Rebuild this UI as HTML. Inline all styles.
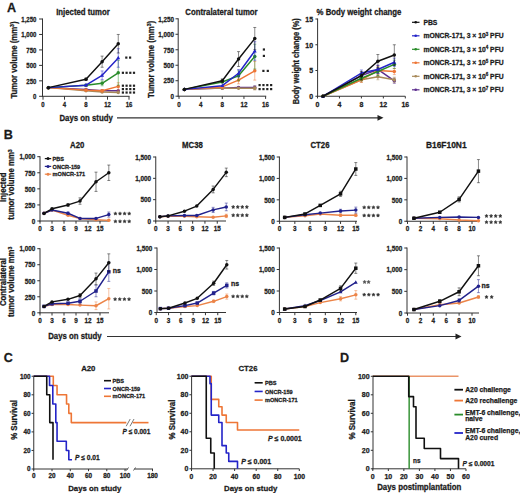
<!DOCTYPE html>
<html><head><meta charset="utf-8"><style>
html,body{margin:0;padding:0;background:#fff;}
svg{display:block;font-family:"Liberation Sans", sans-serif;}
text{stroke:#1a1a1a;stroke-width:0.25px;paint-order:stroke;}
</style></head><body>
<svg width="520" height="493" viewBox="0 0 520 493">
<rect width="520" height="493" fill="#fff"/>
<text x="6.9" y="11.29" text-anchor="start" style="font-size:12.6px;font-weight:bold;" fill="#1a1a1a" transform="translate(6.9 6.75) scale(1 1.05) translate(-6.9 -6.75)" >A</text>
<line x1="42.5" y1="18.5" x2="42.5" y2="96.8" stroke="#333" stroke-width="1" />
<line x1="42" y1="96.3" x2="129.5" y2="96.3" stroke="#333" stroke-width="1" />
<line x1="39.1" y1="96.3" x2="42.5" y2="96.3" stroke="#333" stroke-width="1" />
<text x="36.4" y="98.82" text-anchor="end" style="font-size:7px;font-weight:bold;" fill="#1a1a1a" transform="translate(36.4 96.3) scale(0.86 1.1) translate(-36.4 -96.3)" >0</text>
<line x1="39.1" y1="80.84" x2="42.5" y2="80.84" stroke="#333" stroke-width="1" />
<text x="36.4" y="83.36" text-anchor="end" style="font-size:7px;font-weight:bold;" fill="#1a1a1a" transform="translate(36.4 80.84) scale(0.86 1.1) translate(-36.4 -80.84)" >250</text>
<line x1="39.1" y1="65.38" x2="42.5" y2="65.38" stroke="#333" stroke-width="1" />
<text x="36.4" y="67.9" text-anchor="end" style="font-size:7px;font-weight:bold;" fill="#1a1a1a" transform="translate(36.4 65.38) scale(0.86 1.1) translate(-36.4 -65.38)" >500</text>
<line x1="39.1" y1="49.92" x2="42.5" y2="49.92" stroke="#333" stroke-width="1" />
<text x="36.4" y="52.44" text-anchor="end" style="font-size:7px;font-weight:bold;" fill="#1a1a1a" transform="translate(36.4 49.92) scale(0.86 1.1) translate(-36.4 -49.92)" >750</text>
<line x1="39.1" y1="34.46" x2="42.5" y2="34.46" stroke="#333" stroke-width="1" />
<text x="36.4" y="36.98" text-anchor="end" style="font-size:7px;font-weight:bold;" fill="#1a1a1a" transform="translate(36.4 34.46) scale(0.86 1.1) translate(-36.4 -34.46)" >1,000</text>
<line x1="39.1" y1="19" x2="42.5" y2="19" stroke="#333" stroke-width="1" />
<text x="36.4" y="21.52" text-anchor="end" style="font-size:7px;font-weight:bold;" fill="#1a1a1a" transform="translate(36.4 19) scale(0.86 1.1) translate(-36.4 -19)" >1,250</text>
<line x1="43" y1="96.3" x2="43" y2="99.7" stroke="#333" stroke-width="1" />
<text x="43" y="107.12" text-anchor="middle" style="font-size:7px;font-weight:bold;" fill="#1a1a1a" transform="translate(43 104.6) scale(0.86 1.1) translate(-43 -104.6)" >0</text>
<line x1="64.5" y1="96.3" x2="64.5" y2="99.7" stroke="#333" stroke-width="1" />
<text x="64.5" y="107.12" text-anchor="middle" style="font-size:7px;font-weight:bold;" fill="#1a1a1a" transform="translate(64.5 104.6) scale(0.86 1.1) translate(-64.5 -104.6)" >4</text>
<line x1="86" y1="96.3" x2="86" y2="99.7" stroke="#333" stroke-width="1" />
<text x="86" y="107.12" text-anchor="middle" style="font-size:7px;font-weight:bold;" fill="#1a1a1a" transform="translate(86 104.6) scale(0.86 1.1) translate(-86 -104.6)" >8</text>
<line x1="107.5" y1="96.3" x2="107.5" y2="99.7" stroke="#333" stroke-width="1" />
<text x="107.5" y="107.12" text-anchor="middle" style="font-size:7px;font-weight:bold;" fill="#1a1a1a" transform="translate(107.5 104.6) scale(0.86 1.1) translate(-107.5 -104.6)" >12</text>
<line x1="129" y1="96.3" x2="129" y2="99.7" stroke="#333" stroke-width="1" />
<text x="129" y="107.12" text-anchor="middle" style="font-size:7px;font-weight:bold;" fill="#1a1a1a" transform="translate(129 104.6) scale(0.86 1.1) translate(-129 -104.6)" >16</text>
<text x="83" y="14.31" text-anchor="middle" style="font-size:7.8px;font-weight:bold;" fill="#1a1a1a" transform="translate(83 11.5) scale(1 1.1) translate(-83 -11.5)" >Injected tumor</text>
<text x="13.5" y="62.81" text-anchor="middle" style="font-size:7.8px;font-weight:bold;" fill="#1a1a1a" transform="translate(13.5 60) rotate(-90) scale(1 1.1) translate(-13.5 -60)" >Tumor volume (mm<tspan dy="-2.6" style="font-size:5.2px">3</tspan><tspan dy="2.6">)</tspan></text>
<polyline points="48.38,87.64 86,89.5 102.12,90.73 118.25,90.73" fill="none" stroke="#5c2e8e" stroke-width="1.45" stroke-linejoin="round" />
<circle cx="48.38" cy="87.64" r="1.75" fill="#5c2e8e"/>
<circle cx="86" cy="89.5" r="1.75" fill="#5c2e8e"/>
<circle cx="102.12" cy="90.73" r="1.75" fill="#5c2e8e"/>
<circle cx="118.25" cy="90.73" r="1.75" fill="#5c2e8e"/>
<polyline points="48.38,87.64 86,90.73 102.12,91.97 118.25,92.59" fill="none" stroke="#a88a5a" stroke-width="1.45" stroke-linejoin="round" />
<circle cx="48.38" cy="87.64" r="1.75" fill="#a88a5a"/>
<circle cx="86" cy="90.73" r="1.75" fill="#a88a5a"/>
<circle cx="102.12" cy="91.97" r="1.75" fill="#a88a5a"/>
<circle cx="118.25" cy="92.59" r="1.75" fill="#a88a5a"/>
<line x1="86" y1="89.19" x2="86" y2="91.04" stroke="#ee7636" stroke-width="0.7" stroke-opacity="0.7"/>
<line x1="84.5" y1="89.19" x2="87.5" y2="89.19" stroke="#ee7636" stroke-width="0.7" stroke-opacity="0.7"/>
<line x1="84.5" y1="91.04" x2="87.5" y2="91.04" stroke="#ee7636" stroke-width="0.7" stroke-opacity="0.7"/>
<line x1="102.12" y1="89.5" x2="102.12" y2="91.97" stroke="#ee7636" stroke-width="0.7" stroke-opacity="0.7"/>
<line x1="100.62" y1="89.5" x2="103.62" y2="89.5" stroke="#ee7636" stroke-width="0.7" stroke-opacity="0.7"/>
<line x1="100.62" y1="91.97" x2="103.62" y2="91.97" stroke="#ee7636" stroke-width="0.7" stroke-opacity="0.7"/>
<line x1="118.25" y1="82.7" x2="118.25" y2="90.12" stroke="#ee7636" stroke-width="0.7" stroke-opacity="0.7"/>
<line x1="116.75" y1="82.7" x2="119.75" y2="82.7" stroke="#ee7636" stroke-width="0.7" stroke-opacity="0.7"/>
<line x1="116.75" y1="90.12" x2="119.75" y2="90.12" stroke="#ee7636" stroke-width="0.7" stroke-opacity="0.7"/>
<polyline points="48.38,87.64 86,90.12 102.12,90.73 118.25,86.41" fill="none" stroke="#ee7636" stroke-width="1.45" stroke-linejoin="round" />
<circle cx="48.38" cy="87.64" r="1.75" fill="#ee7636"/>
<circle cx="86" cy="90.12" r="1.75" fill="#ee7636"/>
<circle cx="102.12" cy="90.73" r="1.75" fill="#ee7636"/>
<circle cx="118.25" cy="86.41" r="1.75" fill="#ee7636"/>
<line x1="86" y1="84.55" x2="86" y2="85.79" stroke="#2a8c2a" stroke-width="0.7" stroke-opacity="0.7"/>
<line x1="84.5" y1="84.55" x2="87.5" y2="84.55" stroke="#2a8c2a" stroke-width="0.7" stroke-opacity="0.7"/>
<line x1="84.5" y1="85.79" x2="87.5" y2="85.79" stroke="#2a8c2a" stroke-width="0.7" stroke-opacity="0.7"/>
<line x1="102.12" y1="80.84" x2="102.12" y2="85.79" stroke="#2a8c2a" stroke-width="0.7" stroke-opacity="0.7"/>
<line x1="100.62" y1="80.84" x2="103.62" y2="80.84" stroke="#2a8c2a" stroke-width="0.7" stroke-opacity="0.7"/>
<line x1="100.62" y1="85.79" x2="103.62" y2="85.79" stroke="#2a8c2a" stroke-width="0.7" stroke-opacity="0.7"/>
<line x1="118.25" y1="60.43" x2="118.25" y2="85.17" stroke="#2a8c2a" stroke-width="0.7" stroke-opacity="0.7"/>
<line x1="116.75" y1="60.43" x2="119.75" y2="60.43" stroke="#2a8c2a" stroke-width="0.7" stroke-opacity="0.7"/>
<line x1="116.75" y1="85.17" x2="119.75" y2="85.17" stroke="#2a8c2a" stroke-width="0.7" stroke-opacity="0.7"/>
<polyline points="48.38,87.64 86,85.17 102.12,83.31 118.25,72.8" fill="none" stroke="#2a8c2a" stroke-width="1.45" stroke-linejoin="round" />
<circle cx="48.38" cy="87.64" r="1.75" fill="#2a8c2a"/>
<circle cx="86" cy="85.17" r="1.75" fill="#2a8c2a"/>
<circle cx="102.12" cy="83.31" r="1.75" fill="#2a8c2a"/>
<circle cx="118.25" cy="72.8" r="1.75" fill="#2a8c2a"/>
<line x1="86" y1="84.24" x2="86" y2="86.1" stroke="#2424c8" stroke-width="0.7" stroke-opacity="0.7"/>
<line x1="84.5" y1="84.24" x2="87.5" y2="84.24" stroke="#2424c8" stroke-width="0.7" stroke-opacity="0.7"/>
<line x1="84.5" y1="86.1" x2="87.5" y2="86.1" stroke="#2424c8" stroke-width="0.7" stroke-opacity="0.7"/>
<line x1="102.12" y1="70.95" x2="102.12" y2="79.6" stroke="#2424c8" stroke-width="0.7" stroke-opacity="0.7"/>
<line x1="100.62" y1="70.95" x2="103.62" y2="70.95" stroke="#2424c8" stroke-width="0.7" stroke-opacity="0.7"/>
<line x1="100.62" y1="79.6" x2="103.62" y2="79.6" stroke="#2424c8" stroke-width="0.7" stroke-opacity="0.7"/>
<line x1="118.25" y1="48.68" x2="118.25" y2="67.24" stroke="#2424c8" stroke-width="0.7" stroke-opacity="0.7"/>
<line x1="116.75" y1="48.68" x2="119.75" y2="48.68" stroke="#2424c8" stroke-width="0.7" stroke-opacity="0.7"/>
<line x1="116.75" y1="67.24" x2="119.75" y2="67.24" stroke="#2424c8" stroke-width="0.7" stroke-opacity="0.7"/>
<polyline points="48.38,87.64 86,85.17 102.12,75.27 118.25,57.96" fill="none" stroke="#2424c8" stroke-width="1.45" stroke-linejoin="round" />
<polygon points="48.38,85.54 46.45,89.04 50.3,89.04" fill="#2424c8"/>
<polygon points="86,83.07 84.08,86.57 87.92,86.57" fill="#2424c8"/>
<polygon points="102.12,73.17 100.2,76.67 104.05,76.67" fill="#2424c8"/>
<polygon points="118.25,55.86 116.33,59.36 120.17,59.36" fill="#2424c8"/>
<line x1="86" y1="78.06" x2="86" y2="80.53" stroke="#111111" stroke-width="0.7" stroke-opacity="0.7"/>
<line x1="84.5" y1="78.06" x2="87.5" y2="78.06" stroke="#111111" stroke-width="0.7" stroke-opacity="0.7"/>
<line x1="84.5" y1="80.53" x2="87.5" y2="80.53" stroke="#111111" stroke-width="0.7" stroke-opacity="0.7"/>
<line x1="102.12" y1="56.1" x2="102.12" y2="67.24" stroke="#111111" stroke-width="0.7" stroke-opacity="0.7"/>
<line x1="100.62" y1="56.1" x2="103.62" y2="56.1" stroke="#111111" stroke-width="0.7" stroke-opacity="0.7"/>
<line x1="100.62" y1="67.24" x2="103.62" y2="67.24" stroke="#111111" stroke-width="0.7" stroke-opacity="0.7"/>
<line x1="118.25" y1="34.46" x2="118.25" y2="53.01" stroke="#111111" stroke-width="0.7" stroke-opacity="0.7"/>
<line x1="116.75" y1="34.46" x2="119.75" y2="34.46" stroke="#111111" stroke-width="0.7" stroke-opacity="0.7"/>
<line x1="116.75" y1="53.01" x2="119.75" y2="53.01" stroke="#111111" stroke-width="0.7" stroke-opacity="0.7"/>
<polyline points="48.38,87.64 86,79.29 102.12,61.67 118.25,43.74" fill="none" stroke="#111111" stroke-width="1.45" stroke-linejoin="round" />
<circle cx="48.38" cy="87.64" r="1.75" fill="#111111"/>
<circle cx="86" cy="79.29" r="1.75" fill="#111111"/>
<circle cx="102.12" cy="61.67" r="1.75" fill="#111111"/>
<circle cx="118.25" cy="43.74" r="1.75" fill="#111111"/>
<rect x="125.2" y="56.5" width="2.2" height="2.2" fill="#222"/>
<rect x="129" y="56.5" width="2.2" height="2.2" fill="#222"/>
<rect x="121.8" y="71.7" width="2.2" height="2.2" fill="#222"/>
<rect x="125.5" y="71.7" width="2.2" height="2.2" fill="#222"/>
<rect x="129.2" y="71.7" width="2.2" height="2.2" fill="#222"/>
<rect x="132.9" y="71.7" width="2.2" height="2.2" fill="#222"/>
<rect x="121.8" y="84.6" width="2.2" height="2.2" fill="#222"/>
<rect x="125.5" y="84.6" width="2.2" height="2.2" fill="#222"/>
<rect x="129.2" y="84.6" width="2.2" height="2.2" fill="#222"/>
<rect x="132.9" y="84.6" width="2.2" height="2.2" fill="#222"/>
<rect x="121.8" y="88" width="2.2" height="2.2" fill="#222"/>
<rect x="125.5" y="88" width="2.2" height="2.2" fill="#222"/>
<rect x="129.2" y="88" width="2.2" height="2.2" fill="#222"/>
<rect x="132.9" y="88" width="2.2" height="2.2" fill="#222"/>
<rect x="121.8" y="91.45" width="2.2" height="2.2" fill="#222"/>
<rect x="125.5" y="91.45" width="2.2" height="2.2" fill="#222"/>
<rect x="129.2" y="91.45" width="2.2" height="2.2" fill="#222"/>
<rect x="132.9" y="91.45" width="2.2" height="2.2" fill="#222"/>
<line x1="178.2" y1="18.3" x2="178.2" y2="96.7" stroke="#333" stroke-width="1" />
<line x1="177.7" y1="96.2" x2="266.2" y2="96.2" stroke="#333" stroke-width="1" />
<line x1="175.5" y1="96.2" x2="178.2" y2="96.2" stroke="#333" stroke-width="1" />
<text x="173.9" y="98.72" text-anchor="end" style="font-size:7px;font-weight:bold;" fill="#1a1a1a" transform="translate(173.9 96.2) scale(0.9 1.1) translate(-173.9 -96.2)" >0</text>
<line x1="175.5" y1="80.72" x2="178.2" y2="80.72" stroke="#333" stroke-width="1" />
<text x="173.9" y="83.24" text-anchor="end" style="font-size:7px;font-weight:bold;" fill="#1a1a1a" transform="translate(173.9 80.72) scale(0.9 1.1) translate(-173.9 -80.72)" >250</text>
<line x1="175.5" y1="65.24" x2="178.2" y2="65.24" stroke="#333" stroke-width="1" />
<text x="173.9" y="67.76" text-anchor="end" style="font-size:7px;font-weight:bold;" fill="#1a1a1a" transform="translate(173.9 65.24) scale(0.9 1.1) translate(-173.9 -65.24)" >500</text>
<line x1="175.5" y1="49.76" x2="178.2" y2="49.76" stroke="#333" stroke-width="1" />
<text x="173.9" y="52.28" text-anchor="end" style="font-size:7px;font-weight:bold;" fill="#1a1a1a" transform="translate(173.9 49.76) scale(0.9 1.1) translate(-173.9 -49.76)" >750</text>
<line x1="175.5" y1="34.28" x2="178.2" y2="34.28" stroke="#333" stroke-width="1" />
<text x="173.9" y="36.8" text-anchor="end" style="font-size:7px;font-weight:bold;" fill="#1a1a1a" transform="translate(173.9 34.28) scale(0.9 1.1) translate(-173.9 -34.28)" >1,000</text>
<line x1="175.5" y1="18.8" x2="178.2" y2="18.8" stroke="#333" stroke-width="1" />
<text x="173.9" y="21.32" text-anchor="end" style="font-size:7px;font-weight:bold;" fill="#1a1a1a" transform="translate(173.9 18.8) scale(0.9 1.1) translate(-173.9 -18.8)" >1,250</text>
<line x1="179" y1="96.2" x2="179" y2="98.9" stroke="#333" stroke-width="1" />
<text x="179" y="107.02" text-anchor="middle" style="font-size:7px;font-weight:bold;" fill="#1a1a1a" transform="translate(179 104.5) scale(0.9 1.1) translate(-179 -104.5)" >0</text>
<line x1="200.65" y1="96.2" x2="200.65" y2="98.9" stroke="#333" stroke-width="1" />
<text x="200.65" y="107.02" text-anchor="middle" style="font-size:7px;font-weight:bold;" fill="#1a1a1a" transform="translate(200.65 104.5) scale(0.9 1.1) translate(-200.65 -104.5)" >4</text>
<line x1="222.3" y1="96.2" x2="222.3" y2="98.9" stroke="#333" stroke-width="1" />
<text x="222.3" y="107.02" text-anchor="middle" style="font-size:7px;font-weight:bold;" fill="#1a1a1a" transform="translate(222.3 104.5) scale(0.9 1.1) translate(-222.3 -104.5)" >8</text>
<line x1="243.95" y1="96.2" x2="243.95" y2="98.9" stroke="#333" stroke-width="1" />
<text x="243.95" y="107.02" text-anchor="middle" style="font-size:7px;font-weight:bold;" fill="#1a1a1a" transform="translate(243.95 104.5) scale(0.9 1.1) translate(-243.95 -104.5)" >12</text>
<line x1="265.6" y1="96.2" x2="265.6" y2="98.9" stroke="#333" stroke-width="1" />
<text x="265.6" y="107.02" text-anchor="middle" style="font-size:7px;font-weight:bold;" fill="#1a1a1a" transform="translate(265.6 104.5) scale(0.9 1.1) translate(-265.6 -104.5)" >16</text>
<text x="221.5" y="14.31" text-anchor="middle" style="font-size:7.8px;font-weight:bold;" fill="#1a1a1a" transform="translate(221.5 11.5) scale(1 1.1) translate(-221.5 -11.5)" >Contralateral tumor</text>
<text x="151" y="62.21" text-anchor="middle" style="font-size:7.8px;font-weight:bold;" fill="#1a1a1a" transform="translate(151 59.4) rotate(-90) scale(1 1.1) translate(-151 -59.4)" >Tumor volume (mm<tspan dy="-2.6" style="font-size:5.2px">3</tspan><tspan dy="2.6">)</tspan></text>
<line x1="254.77" y1="85.67" x2="254.77" y2="89.39" stroke="#5c2e8e" stroke-width="0.7" stroke-opacity="0.7"/>
<line x1="253.27" y1="85.67" x2="256.27" y2="85.67" stroke="#5c2e8e" stroke-width="0.7" stroke-opacity="0.7"/>
<line x1="253.27" y1="89.39" x2="256.27" y2="89.39" stroke="#5c2e8e" stroke-width="0.7" stroke-opacity="0.7"/>
<polyline points="184.41,89.39 222.3,88.15 238.54,87.53 254.77,87.53" fill="none" stroke="#5c2e8e" stroke-width="1.45" stroke-linejoin="round" />
<circle cx="184.41" cy="89.39" r="1.75" fill="#5c2e8e"/>
<circle cx="222.3" cy="88.15" r="1.75" fill="#5c2e8e"/>
<circle cx="238.54" cy="87.53" r="1.75" fill="#5c2e8e"/>
<circle cx="254.77" cy="87.53" r="1.75" fill="#5c2e8e"/>
<line x1="254.77" y1="86.29" x2="254.77" y2="90.01" stroke="#a88a5a" stroke-width="0.7" stroke-opacity="0.7"/>
<line x1="253.27" y1="86.29" x2="256.27" y2="86.29" stroke="#a88a5a" stroke-width="0.7" stroke-opacity="0.7"/>
<line x1="253.27" y1="90.01" x2="256.27" y2="90.01" stroke="#a88a5a" stroke-width="0.7" stroke-opacity="0.7"/>
<polyline points="184.41,89.39 222.3,88.15 238.54,88.15 254.77,88.15" fill="none" stroke="#a88a5a" stroke-width="1.45" stroke-linejoin="round" />
<circle cx="184.41" cy="89.39" r="1.75" fill="#a88a5a"/>
<circle cx="222.3" cy="88.15" r="1.75" fill="#a88a5a"/>
<circle cx="238.54" cy="88.15" r="1.75" fill="#a88a5a"/>
<circle cx="254.77" cy="88.15" r="1.75" fill="#a88a5a"/>
<line x1="238.54" y1="76.39" x2="238.54" y2="83.82" stroke="#ee7636" stroke-width="0.7" stroke-opacity="0.7"/>
<line x1="237.04" y1="76.39" x2="240.04" y2="76.39" stroke="#ee7636" stroke-width="0.7" stroke-opacity="0.7"/>
<line x1="237.04" y1="83.82" x2="240.04" y2="83.82" stroke="#ee7636" stroke-width="0.7" stroke-opacity="0.7"/>
<line x1="254.77" y1="61.52" x2="254.77" y2="80.1" stroke="#ee7636" stroke-width="0.7" stroke-opacity="0.7"/>
<line x1="253.27" y1="61.52" x2="256.27" y2="61.52" stroke="#ee7636" stroke-width="0.7" stroke-opacity="0.7"/>
<line x1="253.27" y1="80.1" x2="256.27" y2="80.1" stroke="#ee7636" stroke-width="0.7" stroke-opacity="0.7"/>
<polyline points="184.41,89.39 222.3,86.91 238.54,80.1 254.77,70.81" fill="none" stroke="#ee7636" stroke-width="1.45" stroke-linejoin="round" />
<circle cx="184.41" cy="89.39" r="1.75" fill="#ee7636"/>
<circle cx="222.3" cy="86.91" r="1.75" fill="#ee7636"/>
<circle cx="238.54" cy="80.1" r="1.75" fill="#ee7636"/>
<circle cx="254.77" cy="70.81" r="1.75" fill="#ee7636"/>
<line x1="238.54" y1="70.81" x2="238.54" y2="80.72" stroke="#2a8c2a" stroke-width="0.7" stroke-opacity="0.7"/>
<line x1="237.04" y1="70.81" x2="240.04" y2="70.81" stroke="#2a8c2a" stroke-width="0.7" stroke-opacity="0.7"/>
<line x1="237.04" y1="80.72" x2="240.04" y2="80.72" stroke="#2a8c2a" stroke-width="0.7" stroke-opacity="0.7"/>
<line x1="254.77" y1="44.19" x2="254.77" y2="68.96" stroke="#2a8c2a" stroke-width="0.7" stroke-opacity="0.7"/>
<line x1="253.27" y1="44.19" x2="256.27" y2="44.19" stroke="#2a8c2a" stroke-width="0.7" stroke-opacity="0.7"/>
<line x1="253.27" y1="68.96" x2="256.27" y2="68.96" stroke="#2a8c2a" stroke-width="0.7" stroke-opacity="0.7"/>
<polyline points="184.41,89.39 222.3,81.96 238.54,75.77 254.77,56.57" fill="none" stroke="#2a8c2a" stroke-width="1.45" stroke-linejoin="round" />
<circle cx="184.41" cy="89.39" r="1.75" fill="#2a8c2a"/>
<circle cx="222.3" cy="81.96" r="1.75" fill="#2a8c2a"/>
<circle cx="238.54" cy="75.77" r="1.75" fill="#2a8c2a"/>
<circle cx="254.77" cy="56.57" r="1.75" fill="#2a8c2a"/>
<line x1="238.54" y1="69.57" x2="238.54" y2="77" stroke="#2424c8" stroke-width="0.7" stroke-opacity="0.7"/>
<line x1="237.04" y1="69.57" x2="240.04" y2="69.57" stroke="#2424c8" stroke-width="0.7" stroke-opacity="0.7"/>
<line x1="237.04" y1="77" x2="240.04" y2="77" stroke="#2424c8" stroke-width="0.7" stroke-opacity="0.7"/>
<line x1="254.77" y1="41.71" x2="254.77" y2="60.29" stroke="#2424c8" stroke-width="0.7" stroke-opacity="0.7"/>
<line x1="253.27" y1="41.71" x2="256.27" y2="41.71" stroke="#2424c8" stroke-width="0.7" stroke-opacity="0.7"/>
<line x1="253.27" y1="60.29" x2="256.27" y2="60.29" stroke="#2424c8" stroke-width="0.7" stroke-opacity="0.7"/>
<polyline points="184.41,89.39 222.3,85.67 238.54,73.29 254.77,51" fill="none" stroke="#2424c8" stroke-width="1.45" stroke-linejoin="round" />
<polygon points="184.41,87.29 182.49,90.79 186.34,90.79" fill="#2424c8"/>
<polygon points="222.3,83.57 220.38,87.07 224.23,87.07" fill="#2424c8"/>
<polygon points="238.54,71.19 236.61,74.69 240.46,74.69" fill="#2424c8"/>
<polygon points="254.77,48.9 252.85,52.4 256.7,52.4" fill="#2424c8"/>
<line x1="222.3" y1="78.86" x2="222.3" y2="82.58" stroke="#111111" stroke-width="0.7" stroke-opacity="0.7"/>
<line x1="220.8" y1="78.86" x2="223.8" y2="78.86" stroke="#111111" stroke-width="0.7" stroke-opacity="0.7"/>
<line x1="220.8" y1="82.58" x2="223.8" y2="82.58" stroke="#111111" stroke-width="0.7" stroke-opacity="0.7"/>
<line x1="238.54" y1="51.62" x2="238.54" y2="66.48" stroke="#111111" stroke-width="0.7" stroke-opacity="0.7"/>
<line x1="237.04" y1="51.62" x2="240.04" y2="51.62" stroke="#111111" stroke-width="0.7" stroke-opacity="0.7"/>
<line x1="237.04" y1="66.48" x2="240.04" y2="66.48" stroke="#111111" stroke-width="0.7" stroke-opacity="0.7"/>
<line x1="254.77" y1="27.47" x2="254.77" y2="49.76" stroke="#111111" stroke-width="0.7" stroke-opacity="0.7"/>
<line x1="253.27" y1="27.47" x2="256.27" y2="27.47" stroke="#111111" stroke-width="0.7" stroke-opacity="0.7"/>
<line x1="253.27" y1="49.76" x2="256.27" y2="49.76" stroke="#111111" stroke-width="0.7" stroke-opacity="0.7"/>
<polyline points="184.41,89.39 222.3,80.72 238.54,59.05 254.77,38.61" fill="none" stroke="#111111" stroke-width="1.45" stroke-linejoin="round" />
<circle cx="184.41" cy="89.39" r="1.75" fill="#111111"/>
<circle cx="222.3" cy="80.72" r="1.75" fill="#111111"/>
<circle cx="238.54" cy="59.05" r="1.75" fill="#111111"/>
<circle cx="254.77" cy="38.61" r="1.75" fill="#111111"/>
<rect x="262.8" y="48.4" width="2.2" height="2.2" fill="#222"/>
<rect x="262.8" y="54.8" width="2.2" height="2.2" fill="#222"/>
<rect x="262.3" y="69.8" width="2.2" height="2.2" fill="#222"/>
<rect x="266.7" y="69.8" width="2.2" height="2.2" fill="#222"/>
<rect x="258.5" y="84" width="2.2" height="2.2" fill="#222"/>
<rect x="262.35" y="84" width="2.2" height="2.2" fill="#222"/>
<rect x="266.2" y="84" width="2.2" height="2.2" fill="#222"/>
<rect x="270.05" y="84" width="2.2" height="2.2" fill="#222"/>
<rect x="258.5" y="88" width="2.2" height="2.2" fill="#222"/>
<rect x="262.35" y="88" width="2.2" height="2.2" fill="#222"/>
<rect x="266.2" y="88" width="2.2" height="2.2" fill="#222"/>
<rect x="270.05" y="88" width="2.2" height="2.2" fill="#222"/>
<line x1="317.6" y1="18.5" x2="317.6" y2="96.75" stroke="#333" stroke-width="1" />
<line x1="317.1" y1="96.25" x2="405.3" y2="96.25" stroke="#333" stroke-width="1" />
<line x1="315.4" y1="96.25" x2="317.6" y2="96.25" stroke="#333" stroke-width="1" />
<text x="313.1" y="98.77" text-anchor="end" style="font-size:7px;font-weight:bold;" fill="#1a1a1a" transform="translate(313.1 96.25) scale(1 1.1) translate(-313.1 -96.25)" >0</text>
<line x1="315.4" y1="70.5" x2="317.6" y2="70.5" stroke="#333" stroke-width="1" />
<text x="313.1" y="73.02" text-anchor="end" style="font-size:7px;font-weight:bold;" fill="#1a1a1a" transform="translate(313.1 70.5) scale(1 1.1) translate(-313.1 -70.5)" >5</text>
<line x1="315.4" y1="44.75" x2="317.6" y2="44.75" stroke="#333" stroke-width="1" />
<text x="313.1" y="47.27" text-anchor="end" style="font-size:7px;font-weight:bold;" fill="#1a1a1a" transform="translate(313.1 44.75) scale(1 1.1) translate(-313.1 -44.75)" >10</text>
<line x1="315.4" y1="19" x2="317.6" y2="19" stroke="#333" stroke-width="1" />
<text x="313.1" y="21.52" text-anchor="end" style="font-size:7px;font-weight:bold;" fill="#1a1a1a" transform="translate(313.1 19) scale(1 1.1) translate(-313.1 -19)" >15</text>
<line x1="317.5" y1="96.25" x2="317.5" y2="98.45" stroke="#333" stroke-width="1" />
<text x="317.5" y="107.07" text-anchor="middle" style="font-size:7px;font-weight:bold;" fill="#1a1a1a" transform="translate(317.5 104.55) scale(1 1.1) translate(-317.5 -104.55)" >0</text>
<line x1="339.45" y1="96.25" x2="339.45" y2="98.45" stroke="#333" stroke-width="1" />
<text x="339.45" y="107.07" text-anchor="middle" style="font-size:7px;font-weight:bold;" fill="#1a1a1a" transform="translate(339.45 104.55) scale(1 1.1) translate(-339.45 -104.55)" >4</text>
<line x1="361.4" y1="96.25" x2="361.4" y2="98.45" stroke="#333" stroke-width="1" />
<text x="361.4" y="107.07" text-anchor="middle" style="font-size:7px;font-weight:bold;" fill="#1a1a1a" transform="translate(361.4 104.55) scale(1 1.1) translate(-361.4 -104.55)" >8</text>
<line x1="383.35" y1="96.25" x2="383.35" y2="98.45" stroke="#333" stroke-width="1" />
<text x="383.35" y="107.07" text-anchor="middle" style="font-size:7px;font-weight:bold;" fill="#1a1a1a" transform="translate(383.35 104.55) scale(1 1.1) translate(-383.35 -104.55)" >12</text>
<line x1="405.3" y1="96.25" x2="405.3" y2="98.45" stroke="#333" stroke-width="1" />
<text x="405.3" y="107.07" text-anchor="middle" style="font-size:7px;font-weight:bold;" fill="#1a1a1a" transform="translate(405.3 104.55) scale(1 1.1) translate(-405.3 -104.55)" >16</text>
<text x="359" y="14.31" text-anchor="middle" style="font-size:7.8px;font-weight:bold;" fill="#1a1a1a" transform="translate(359 11.5) scale(1 1.1) translate(-359 -11.5)" >% Body weight change</text>
<text x="295.9" y="63.88" text-anchor="middle" style="font-size:7.45px;font-weight:bold;" fill="#1a1a1a" transform="translate(295.9 61.2) rotate(-90) scale(1 1.1) translate(-295.9 -61.2)" >Body weight change (%)</text>
<line x1="361.4" y1="73.08" x2="361.4" y2="78.22" stroke="#5c2e8e" stroke-width="0.7" stroke-opacity="0.7"/>
<line x1="359.9" y1="73.08" x2="362.9" y2="73.08" stroke="#5c2e8e" stroke-width="0.7" stroke-opacity="0.7"/>
<line x1="359.9" y1="78.22" x2="362.9" y2="78.22" stroke="#5c2e8e" stroke-width="0.7" stroke-opacity="0.7"/>
<line x1="377.86" y1="65.35" x2="377.86" y2="73.59" stroke="#5c2e8e" stroke-width="0.7" stroke-opacity="0.7"/>
<line x1="376.36" y1="65.35" x2="379.36" y2="65.35" stroke="#5c2e8e" stroke-width="0.7" stroke-opacity="0.7"/>
<line x1="376.36" y1="73.59" x2="379.36" y2="73.59" stroke="#5c2e8e" stroke-width="0.7" stroke-opacity="0.7"/>
<line x1="394.32" y1="78.22" x2="394.32" y2="83.38" stroke="#5c2e8e" stroke-width="0.7" stroke-opacity="0.7"/>
<line x1="392.82" y1="78.22" x2="395.82" y2="78.22" stroke="#5c2e8e" stroke-width="0.7" stroke-opacity="0.7"/>
<line x1="392.82" y1="83.38" x2="395.82" y2="83.38" stroke="#5c2e8e" stroke-width="0.7" stroke-opacity="0.7"/>
<polyline points="322.99,96.25 361.4,75.65 377.86,69.47 394.32,80.8" fill="none" stroke="#5c2e8e" stroke-width="1.45" stroke-linejoin="round" />
<circle cx="322.99" cy="96.25" r="1.75" fill="#5c2e8e"/>
<circle cx="361.4" cy="75.65" r="1.75" fill="#5c2e8e"/>
<circle cx="377.86" cy="69.47" r="1.75" fill="#5c2e8e"/>
<circle cx="394.32" cy="80.8" r="1.75" fill="#5c2e8e"/>
<line x1="361.4" y1="77.19" x2="361.4" y2="82.34" stroke="#a88a5a" stroke-width="0.7" stroke-opacity="0.7"/>
<line x1="359.9" y1="77.19" x2="362.9" y2="77.19" stroke="#a88a5a" stroke-width="0.7" stroke-opacity="0.7"/>
<line x1="359.9" y1="82.34" x2="362.9" y2="82.34" stroke="#a88a5a" stroke-width="0.7" stroke-opacity="0.7"/>
<line x1="377.86" y1="73.59" x2="377.86" y2="79.77" stroke="#a88a5a" stroke-width="0.7" stroke-opacity="0.7"/>
<line x1="376.36" y1="73.59" x2="379.36" y2="73.59" stroke="#a88a5a" stroke-width="0.7" stroke-opacity="0.7"/>
<line x1="376.36" y1="79.77" x2="379.36" y2="79.77" stroke="#a88a5a" stroke-width="0.7" stroke-opacity="0.7"/>
<line x1="394.32" y1="77.19" x2="394.32" y2="82.34" stroke="#a88a5a" stroke-width="0.7" stroke-opacity="0.7"/>
<line x1="392.82" y1="77.19" x2="395.82" y2="77.19" stroke="#a88a5a" stroke-width="0.7" stroke-opacity="0.7"/>
<line x1="392.82" y1="82.34" x2="395.82" y2="82.34" stroke="#a88a5a" stroke-width="0.7" stroke-opacity="0.7"/>
<polyline points="322.99,96.25 361.4,79.77 377.86,76.68 394.32,79.77" fill="none" stroke="#a88a5a" stroke-width="1.45" stroke-linejoin="round" />
<circle cx="322.99" cy="96.25" r="1.75" fill="#a88a5a"/>
<circle cx="361.4" cy="79.77" r="1.75" fill="#a88a5a"/>
<circle cx="377.86" cy="76.68" r="1.75" fill="#a88a5a"/>
<circle cx="394.32" cy="79.77" r="1.75" fill="#a88a5a"/>
<line x1="361.4" y1="77.19" x2="361.4" y2="82.34" stroke="#ee7636" stroke-width="0.7" stroke-opacity="0.7"/>
<line x1="359.9" y1="77.19" x2="362.9" y2="77.19" stroke="#ee7636" stroke-width="0.7" stroke-opacity="0.7"/>
<line x1="359.9" y1="82.34" x2="362.9" y2="82.34" stroke="#ee7636" stroke-width="0.7" stroke-opacity="0.7"/>
<line x1="377.86" y1="66.38" x2="377.86" y2="74.62" stroke="#ee7636" stroke-width="0.7" stroke-opacity="0.7"/>
<line x1="376.36" y1="66.38" x2="379.36" y2="66.38" stroke="#ee7636" stroke-width="0.7" stroke-opacity="0.7"/>
<line x1="376.36" y1="74.62" x2="379.36" y2="74.62" stroke="#ee7636" stroke-width="0.7" stroke-opacity="0.7"/>
<line x1="394.32" y1="68.44" x2="394.32" y2="74.62" stroke="#ee7636" stroke-width="0.7" stroke-opacity="0.7"/>
<line x1="392.82" y1="68.44" x2="395.82" y2="68.44" stroke="#ee7636" stroke-width="0.7" stroke-opacity="0.7"/>
<line x1="392.82" y1="74.62" x2="395.82" y2="74.62" stroke="#ee7636" stroke-width="0.7" stroke-opacity="0.7"/>
<polyline points="322.99,96.25 361.4,79.77 377.86,70.5 394.32,71.53" fill="none" stroke="#ee7636" stroke-width="1.45" stroke-linejoin="round" />
<circle cx="322.99" cy="96.25" r="1.75" fill="#ee7636"/>
<circle cx="361.4" cy="79.77" r="1.75" fill="#ee7636"/>
<circle cx="377.86" cy="70.5" r="1.75" fill="#ee7636"/>
<circle cx="394.32" cy="71.53" r="1.75" fill="#ee7636"/>
<line x1="361.4" y1="75.65" x2="361.4" y2="80.8" stroke="#2a8c2a" stroke-width="0.7" stroke-opacity="0.7"/>
<line x1="359.9" y1="75.65" x2="362.9" y2="75.65" stroke="#2a8c2a" stroke-width="0.7" stroke-opacity="0.7"/>
<line x1="359.9" y1="80.8" x2="362.9" y2="80.8" stroke="#2a8c2a" stroke-width="0.7" stroke-opacity="0.7"/>
<line x1="377.86" y1="67.41" x2="377.86" y2="75.65" stroke="#2a8c2a" stroke-width="0.7" stroke-opacity="0.7"/>
<line x1="376.36" y1="67.41" x2="379.36" y2="67.41" stroke="#2a8c2a" stroke-width="0.7" stroke-opacity="0.7"/>
<line x1="376.36" y1="75.65" x2="379.36" y2="75.65" stroke="#2a8c2a" stroke-width="0.7" stroke-opacity="0.7"/>
<line x1="394.32" y1="60.2" x2="394.32" y2="68.44" stroke="#2a8c2a" stroke-width="0.7" stroke-opacity="0.7"/>
<line x1="392.82" y1="60.2" x2="395.82" y2="60.2" stroke="#2a8c2a" stroke-width="0.7" stroke-opacity="0.7"/>
<line x1="392.82" y1="68.44" x2="395.82" y2="68.44" stroke="#2a8c2a" stroke-width="0.7" stroke-opacity="0.7"/>
<polyline points="322.99,96.25 361.4,78.22 377.86,71.53 394.32,64.32" fill="none" stroke="#2a8c2a" stroke-width="1.45" stroke-linejoin="round" />
<circle cx="322.99" cy="96.25" r="1.75" fill="#2a8c2a"/>
<circle cx="361.4" cy="78.22" r="1.75" fill="#2a8c2a"/>
<circle cx="377.86" cy="71.53" r="1.75" fill="#2a8c2a"/>
<circle cx="394.32" cy="64.32" r="1.75" fill="#2a8c2a"/>
<line x1="361.4" y1="69.98" x2="361.4" y2="76.17" stroke="#2424c8" stroke-width="0.7" stroke-opacity="0.7"/>
<line x1="359.9" y1="69.98" x2="362.9" y2="69.98" stroke="#2424c8" stroke-width="0.7" stroke-opacity="0.7"/>
<line x1="359.9" y1="76.17" x2="362.9" y2="76.17" stroke="#2424c8" stroke-width="0.7" stroke-opacity="0.7"/>
<line x1="377.86" y1="65.35" x2="377.86" y2="73.59" stroke="#2424c8" stroke-width="0.7" stroke-opacity="0.7"/>
<line x1="376.36" y1="65.35" x2="379.36" y2="65.35" stroke="#2424c8" stroke-width="0.7" stroke-opacity="0.7"/>
<line x1="376.36" y1="73.59" x2="379.36" y2="73.59" stroke="#2424c8" stroke-width="0.7" stroke-opacity="0.7"/>
<line x1="394.32" y1="58.14" x2="394.32" y2="66.38" stroke="#2424c8" stroke-width="0.7" stroke-opacity="0.7"/>
<line x1="392.82" y1="58.14" x2="395.82" y2="58.14" stroke="#2424c8" stroke-width="0.7" stroke-opacity="0.7"/>
<line x1="392.82" y1="66.38" x2="395.82" y2="66.38" stroke="#2424c8" stroke-width="0.7" stroke-opacity="0.7"/>
<polyline points="322.99,96.25 361.4,73.08 377.86,69.47 394.32,62.26" fill="none" stroke="#2424c8" stroke-width="1.45" stroke-linejoin="round" />
<polygon points="322.99,94.15 321.06,97.65 324.91,97.65" fill="#2424c8"/>
<polygon points="361.4,70.98 359.47,74.48 363.32,74.48" fill="#2424c8"/>
<polygon points="377.86,67.37 375.94,70.87 379.79,70.87" fill="#2424c8"/>
<polygon points="394.32,60.16 392.4,63.66 396.25,63.66" fill="#2424c8"/>
<line x1="361.4" y1="71.53" x2="361.4" y2="79.77" stroke="#111111" stroke-width="0.7" stroke-opacity="0.7"/>
<line x1="359.9" y1="71.53" x2="362.9" y2="71.53" stroke="#111111" stroke-width="0.7" stroke-opacity="0.7"/>
<line x1="359.9" y1="79.77" x2="362.9" y2="79.77" stroke="#111111" stroke-width="0.7" stroke-opacity="0.7"/>
<line x1="377.86" y1="54.53" x2="377.86" y2="67.92" stroke="#111111" stroke-width="0.7" stroke-opacity="0.7"/>
<line x1="376.36" y1="54.53" x2="379.36" y2="54.53" stroke="#111111" stroke-width="0.7" stroke-opacity="0.7"/>
<line x1="376.36" y1="67.92" x2="379.36" y2="67.92" stroke="#111111" stroke-width="0.7" stroke-opacity="0.7"/>
<line x1="394.32" y1="44.75" x2="394.32" y2="65.35" stroke="#111111" stroke-width="0.7" stroke-opacity="0.7"/>
<line x1="392.82" y1="44.75" x2="395.82" y2="44.75" stroke="#111111" stroke-width="0.7" stroke-opacity="0.7"/>
<line x1="392.82" y1="65.35" x2="395.82" y2="65.35" stroke="#111111" stroke-width="0.7" stroke-opacity="0.7"/>
<polyline points="322.99,96.25 361.4,75.65 377.86,61.23 394.32,55.05" fill="none" stroke="#111111" stroke-width="1.45" stroke-linejoin="round" />
<circle cx="322.99" cy="96.25" r="1.75" fill="#111111"/>
<circle cx="361.4" cy="75.65" r="1.75" fill="#111111"/>
<circle cx="377.86" cy="61.23" r="1.75" fill="#111111"/>
<circle cx="394.32" cy="55.05" r="1.75" fill="#111111"/>
<line x1="412" y1="22.3" x2="419.5" y2="22.3" stroke="#111111" stroke-width="1.2" />
<circle cx="415.7" cy="22.3" r="1.3" fill="#111111"/>
<text x="423.4" y="24.75" text-anchor="start" style="font-size:6.8px;font-weight:bold;" fill="#1a1a1a" transform="translate(423.4 22.3) scale(1 1.1) translate(-423.4 -22.3)" >PBS</text>
<line x1="412" y1="35.8" x2="419.5" y2="35.8" stroke="#2424c8" stroke-width="1.2" />
<circle cx="415.7" cy="35.8" r="1.3" fill="#2424c8"/>
<text x="423.4" y="38.25" text-anchor="start" style="font-size:6.8px;font-weight:bold;" fill="#1a1a1a" transform="translate(423.4 35.8) scale(1 1.1) translate(-423.4 -35.8)" >mONCR-171, 3 × 10<tspan dy="-2.3" style="font-size:4.5px">3</tspan><tspan dy="2.3"> PFU</tspan></text>
<line x1="412" y1="49.3" x2="419.5" y2="49.3" stroke="#2a8c2a" stroke-width="1.2" />
<circle cx="415.7" cy="49.3" r="1.3" fill="#2a8c2a"/>
<text x="423.4" y="51.75" text-anchor="start" style="font-size:6.8px;font-weight:bold;" fill="#1a1a1a" transform="translate(423.4 49.3) scale(1 1.1) translate(-423.4 -49.3)" >mONCR-171, 3 × 10<tspan dy="-2.3" style="font-size:4.5px">4</tspan><tspan dy="2.3"> PFU</tspan></text>
<line x1="412" y1="62.8" x2="419.5" y2="62.8" stroke="#ee7636" stroke-width="1.2" />
<circle cx="415.7" cy="62.8" r="1.3" fill="#ee7636"/>
<text x="423.4" y="65.25" text-anchor="start" style="font-size:6.8px;font-weight:bold;" fill="#1a1a1a" transform="translate(423.4 62.8) scale(1 1.1) translate(-423.4 -62.8)" >mONCR-171, 3 × 10<tspan dy="-2.3" style="font-size:4.5px">5</tspan><tspan dy="2.3"> PFU</tspan></text>
<line x1="412" y1="76.3" x2="419.5" y2="76.3" stroke="#a88a5a" stroke-width="1.2" />
<circle cx="415.7" cy="76.3" r="1.3" fill="#a88a5a"/>
<text x="423.4" y="78.75" text-anchor="start" style="font-size:6.8px;font-weight:bold;" fill="#1a1a1a" transform="translate(423.4 76.3) scale(1 1.1) translate(-423.4 -76.3)" >mONCR-171, 3 × 10<tspan dy="-2.3" style="font-size:4.5px">6</tspan><tspan dy="2.3"> PFU</tspan></text>
<line x1="412" y1="89.8" x2="419.5" y2="89.8" stroke="#5c2e8e" stroke-width="1.2" />
<circle cx="415.7" cy="89.8" r="1.3" fill="#5c2e8e"/>
<text x="423.4" y="92.25" text-anchor="start" style="font-size:6.8px;font-weight:bold;" fill="#1a1a1a" transform="translate(423.4 89.8) scale(1 1.1) translate(-423.4 -89.8)" >mONCR-171, 3 × 10<tspan dy="-2.3" style="font-size:4.5px">7</tspan><tspan dy="2.3"> PFU</tspan></text>
<text x="59.5" y="120.81" text-anchor="start" style="font-size:7.8px;font-weight:bold;" fill="#1a1a1a" transform="translate(59.5 118) scale(1 1.1) translate(-59.5 -118)" >Days on study</text>
<line x1="117" y1="117.8" x2="379" y2="117.8" stroke="#333" stroke-width="1.2" />
<polygon points="383.5,117.8 377.5,114.9 377.5,120.7" fill="#222"/>
<text x="3.8" y="139.24" text-anchor="start" style="font-size:12.6px;font-weight:bold;" fill="#1a1a1a" transform="translate(3.8 134.7) scale(1 1.05) translate(-3.8 -134.7)" >B</text>
<line x1="40" y1="156.2" x2="40" y2="221.5" stroke="#333" stroke-width="1" />
<line x1="39.5" y1="221" x2="109" y2="221" stroke="#333" stroke-width="1" />
<line x1="37.3" y1="221" x2="40" y2="221" stroke="#333" stroke-width="1" />
<text x="35.4" y="223.52" text-anchor="end" style="font-size:7px;font-weight:bold;" fill="#1a1a1a" transform="translate(35.4 221) scale(0.91 1.1) translate(-35.4 -221)" >0</text>
<line x1="37.3" y1="204.93" x2="40" y2="204.93" stroke="#333" stroke-width="1" />
<text x="35.4" y="207.45" text-anchor="end" style="font-size:7px;font-weight:bold;" fill="#1a1a1a" transform="translate(35.4 204.93) scale(0.91 1.1) translate(-35.4 -204.93)" >250</text>
<line x1="37.3" y1="188.85" x2="40" y2="188.85" stroke="#333" stroke-width="1" />
<text x="35.4" y="191.37" text-anchor="end" style="font-size:7px;font-weight:bold;" fill="#1a1a1a" transform="translate(35.4 188.85) scale(0.91 1.1) translate(-35.4 -188.85)" >500</text>
<line x1="37.3" y1="172.77" x2="40" y2="172.77" stroke="#333" stroke-width="1" />
<text x="35.4" y="175.29" text-anchor="end" style="font-size:7px;font-weight:bold;" fill="#1a1a1a" transform="translate(35.4 172.77) scale(0.91 1.1) translate(-35.4 -172.77)" >750</text>
<line x1="37.3" y1="156.7" x2="40" y2="156.7" stroke="#333" stroke-width="1" />
<text x="35.4" y="159.22" text-anchor="end" style="font-size:7px;font-weight:bold;" fill="#1a1a1a" transform="translate(35.4 156.7) scale(0.91 1.1) translate(-35.4 -156.7)" >1,000</text>
<line x1="40" y1="221" x2="40" y2="223.7" stroke="#333" stroke-width="1" />
<text x="40" y="230.82" text-anchor="middle" style="font-size:7px;font-weight:bold;" fill="#1a1a1a" transform="translate(40 228.3) scale(0.91 1.1) translate(-40 -228.3)" >0</text>
<line x1="52" y1="221" x2="52" y2="223.7" stroke="#333" stroke-width="1" />
<text x="52" y="230.82" text-anchor="middle" style="font-size:7px;font-weight:bold;" fill="#1a1a1a" transform="translate(52 228.3) scale(0.91 1.1) translate(-52 -228.3)" >3</text>
<line x1="64" y1="221" x2="64" y2="223.7" stroke="#333" stroke-width="1" />
<text x="64" y="230.82" text-anchor="middle" style="font-size:7px;font-weight:bold;" fill="#1a1a1a" transform="translate(64 228.3) scale(0.91 1.1) translate(-64 -228.3)" >6</text>
<line x1="76" y1="221" x2="76" y2="223.7" stroke="#333" stroke-width="1" />
<text x="76" y="230.82" text-anchor="middle" style="font-size:7px;font-weight:bold;" fill="#1a1a1a" transform="translate(76 228.3) scale(0.91 1.1) translate(-76 -228.3)" >9</text>
<line x1="88" y1="221" x2="88" y2="223.7" stroke="#333" stroke-width="1" />
<text x="88" y="230.82" text-anchor="middle" style="font-size:7px;font-weight:bold;" fill="#1a1a1a" transform="translate(88 228.3) scale(0.91 1.1) translate(-88 -228.3)" >12</text>
<line x1="100" y1="221" x2="100" y2="223.7" stroke="#333" stroke-width="1" />
<text x="100" y="230.82" text-anchor="middle" style="font-size:7px;font-weight:bold;" fill="#1a1a1a" transform="translate(100 228.3) scale(0.91 1.1) translate(-100 -228.3)" >15</text>
<text x="77.2" y="147.41" text-anchor="middle" style="font-size:7.8px;font-weight:bold;" fill="#1a1a1a" transform="translate(77.2 144.6) scale(1 1.1) translate(-77.2 -144.6)" >A20</text>
<text x="2.9" y="190.01" text-anchor="middle" style="font-size:7.8px;font-weight:bold;" fill="#1a1a1a" transform="translate(2.9 187.2) rotate(-90) scale(1 1.1) translate(-2.9 -187.2)" >Injected</text>
<text x="11.4" y="187.31" text-anchor="middle" style="font-size:7.8px;font-weight:bold;" fill="#1a1a1a" transform="translate(11.4 184.5) rotate(-90) scale(1 1.1) translate(-11.4 -184.5)" >tumor volume mm<tspan dy="-2.6" style="font-size:5.2px">3</tspan></text>
<line x1="108.8" y1="219.71" x2="108.8" y2="221" stroke="#ec8448" stroke-width="0.7" stroke-opacity="0.7"/>
<line x1="107.3" y1="219.71" x2="110.3" y2="219.71" stroke="#ec8448" stroke-width="0.7" stroke-opacity="0.7"/>
<line x1="107.3" y1="221" x2="110.3" y2="221" stroke="#ec8448" stroke-width="0.7" stroke-opacity="0.7"/>
<polyline points="44,213.28 52,210.07 68,215.21 80,218.43 96,219.71 108.8,220.36" fill="none" stroke="#ec8448" stroke-width="1.45" stroke-linejoin="round" />
<circle cx="44" cy="213.28" r="1.75" fill="#ec8448"/>
<circle cx="52" cy="210.07" r="1.75" fill="#ec8448"/>
<circle cx="68" cy="215.21" r="1.75" fill="#ec8448"/>
<circle cx="80" cy="218.43" r="1.75" fill="#ec8448"/>
<circle cx="96" cy="219.71" r="1.75" fill="#ec8448"/>
<circle cx="108.8" cy="220.36" r="1.75" fill="#ec8448"/>
<line x1="68" y1="212" x2="68" y2="214.57" stroke="#22228c" stroke-width="0.7" stroke-opacity="0.7"/>
<line x1="66.5" y1="212" x2="69.5" y2="212" stroke="#22228c" stroke-width="0.7" stroke-opacity="0.7"/>
<line x1="66.5" y1="214.57" x2="69.5" y2="214.57" stroke="#22228c" stroke-width="0.7" stroke-opacity="0.7"/>
<line x1="108.8" y1="212" x2="108.8" y2="217.14" stroke="#22228c" stroke-width="0.7" stroke-opacity="0.7"/>
<line x1="107.3" y1="212" x2="110.3" y2="212" stroke="#22228c" stroke-width="0.7" stroke-opacity="0.7"/>
<line x1="107.3" y1="217.14" x2="110.3" y2="217.14" stroke="#22228c" stroke-width="0.7" stroke-opacity="0.7"/>
<polyline points="44,213.28 52,210.07 68,213.28 80,218.43 96,218.43 108.8,214.57" fill="none" stroke="#22228c" stroke-width="1.45" stroke-linejoin="round" />
<circle cx="44" cy="213.28" r="1.75" fill="#22228c"/>
<circle cx="52" cy="210.07" r="1.75" fill="#22228c"/>
<circle cx="68" cy="213.28" r="1.75" fill="#22228c"/>
<circle cx="80" cy="218.43" r="1.75" fill="#22228c"/>
<circle cx="96" cy="218.43" r="1.75" fill="#22228c"/>
<circle cx="108.8" cy="214.57" r="1.75" fill="#22228c"/>
<line x1="68" y1="203.64" x2="68" y2="206.21" stroke="#111111" stroke-width="0.7" stroke-opacity="0.7"/>
<line x1="66.5" y1="203.64" x2="69.5" y2="203.64" stroke="#111111" stroke-width="0.7" stroke-opacity="0.7"/>
<line x1="66.5" y1="206.21" x2="69.5" y2="206.21" stroke="#111111" stroke-width="0.7" stroke-opacity="0.7"/>
<line x1="80" y1="197.85" x2="80" y2="204.28" stroke="#111111" stroke-width="0.7" stroke-opacity="0.7"/>
<line x1="78.5" y1="197.85" x2="81.5" y2="197.85" stroke="#111111" stroke-width="0.7" stroke-opacity="0.7"/>
<line x1="78.5" y1="204.28" x2="81.5" y2="204.28" stroke="#111111" stroke-width="0.7" stroke-opacity="0.7"/>
<line x1="96" y1="172.13" x2="96" y2="191.42" stroke="#111111" stroke-width="0.7" stroke-opacity="0.7"/>
<line x1="94.5" y1="172.13" x2="97.5" y2="172.13" stroke="#111111" stroke-width="0.7" stroke-opacity="0.7"/>
<line x1="94.5" y1="191.42" x2="97.5" y2="191.42" stroke="#111111" stroke-width="0.7" stroke-opacity="0.7"/>
<line x1="108.8" y1="165.06" x2="108.8" y2="180.49" stroke="#111111" stroke-width="0.7" stroke-opacity="0.7"/>
<line x1="107.3" y1="165.06" x2="110.3" y2="165.06" stroke="#111111" stroke-width="0.7" stroke-opacity="0.7"/>
<line x1="107.3" y1="180.49" x2="110.3" y2="180.49" stroke="#111111" stroke-width="0.7" stroke-opacity="0.7"/>
<polyline points="44,213.41 52,208.78 68,204.93 80,201.07 96,181.78 108.8,172.77" fill="none" stroke="#111111" stroke-width="1.45" stroke-linejoin="round" />
<circle cx="44" cy="213.41" r="1.75" fill="#111111"/>
<circle cx="52" cy="208.78" r="1.75" fill="#111111"/>
<circle cx="68" cy="204.93" r="1.75" fill="#111111"/>
<circle cx="80" cy="201.07" r="1.75" fill="#111111"/>
<circle cx="96" cy="181.78" r="1.75" fill="#111111"/>
<circle cx="108.8" cy="172.77" r="1.75" fill="#111111"/>
<polygon points="115.4,211.84 115.92,212.89 117.07,213.06 116.23,213.87 116.43,215.02 115.4,214.48 114.37,215.02 114.57,213.87 113.73,213.06 114.88,212.89" fill="#333" stroke="#333" stroke-width="0.5" stroke-linejoin="round"/>
<polygon points="120,211.84 120.52,212.89 121.67,213.06 120.83,213.87 121.03,215.02 120,214.48 118.97,215.02 119.17,213.87 118.33,213.06 119.48,212.89" fill="#333" stroke="#333" stroke-width="0.5" stroke-linejoin="round"/>
<polygon points="124.6,211.84 125.12,212.89 126.27,213.06 125.43,213.87 125.63,215.02 124.6,214.48 123.57,215.02 123.77,213.87 122.93,213.06 124.08,212.89" fill="#333" stroke="#333" stroke-width="0.5" stroke-linejoin="round"/>
<polygon points="129.2,211.84 129.72,212.89 130.87,213.06 130.03,213.87 130.23,215.02 129.2,214.48 128.17,215.02 128.37,213.87 127.53,213.06 128.68,212.89" fill="#333" stroke="#333" stroke-width="0.5" stroke-linejoin="round"/>
<polygon points="115.4,219.65 115.92,220.69 117.07,220.86 116.23,221.67 116.43,222.82 115.4,222.28 114.37,222.82 114.57,221.67 113.73,220.86 114.88,220.69" fill="#333" stroke="#333" stroke-width="0.5" stroke-linejoin="round"/>
<polygon points="120,219.65 120.52,220.69 121.67,220.86 120.83,221.67 121.03,222.82 120,222.28 118.97,222.82 119.17,221.67 118.33,220.86 119.48,220.69" fill="#333" stroke="#333" stroke-width="0.5" stroke-linejoin="round"/>
<polygon points="124.6,219.65 125.12,220.69 126.27,220.86 125.43,221.67 125.63,222.82 124.6,222.28 123.57,222.82 123.77,221.67 122.93,220.86 124.08,220.69" fill="#333" stroke="#333" stroke-width="0.5" stroke-linejoin="round"/>
<polygon points="129.2,219.65 129.72,220.69 130.87,220.86 130.03,221.67 130.23,222.82 129.2,222.28 128.17,222.82 128.37,221.67 127.53,220.86 128.68,220.69" fill="#333" stroke="#333" stroke-width="0.5" stroke-linejoin="round"/>
<line x1="44.8" y1="158.6" x2="51.2" y2="158.6" stroke="#111111" stroke-width="1.2" />
<circle cx="48" cy="158.6" r="1.5" fill="#111111"/>
<text x="52.6" y="160.62" text-anchor="start" style="font-size:5.6px;font-weight:bold;" fill="#1a1a1a" transform="translate(52.6 158.6) scale(1 1.1) translate(-52.6 -158.6)" >PBS</text>
<line x1="44.8" y1="166.4" x2="51.2" y2="166.4" stroke="#22228c" stroke-width="1.2" />
<circle cx="48" cy="166.4" r="1.5" fill="#22228c"/>
<text x="52.6" y="168.42" text-anchor="start" style="font-size:5.6px;font-weight:bold;" fill="#1a1a1a" transform="translate(52.6 166.4) scale(1 1.1) translate(-52.6 -166.4)" >ONCR-159</text>
<line x1="44.8" y1="174.2" x2="51.2" y2="174.2" stroke="#ec8448" stroke-width="1.2" />
<circle cx="48" cy="174.2" r="1.5" fill="#ec8448"/>
<text x="52.6" y="176.22" text-anchor="start" style="font-size:5.6px;font-weight:bold;" fill="#1a1a1a" transform="translate(52.6 174.2) scale(1 1.1) translate(-52.6 -174.2)" >mONCR-171</text>
<line x1="155.75" y1="156.5" x2="155.75" y2="221.5" stroke="#333" stroke-width="1" />
<line x1="155.25" y1="221" x2="226" y2="221" stroke="#333" stroke-width="1" />
<line x1="153.05" y1="221" x2="155.75" y2="221" stroke="#333" stroke-width="1" />
<text x="151.15" y="223.52" text-anchor="end" style="font-size:7px;font-weight:bold;" fill="#1a1a1a" transform="translate(151.15 221) scale(0.91 1.1) translate(-151.15 -221)" >0</text>
<line x1="153.05" y1="199.67" x2="155.75" y2="199.67" stroke="#333" stroke-width="1" />
<text x="151.15" y="202.19" text-anchor="end" style="font-size:7px;font-weight:bold;" fill="#1a1a1a" transform="translate(151.15 199.67) scale(0.91 1.1) translate(-151.15 -199.67)" >500</text>
<line x1="153.05" y1="178.33" x2="155.75" y2="178.33" stroke="#333" stroke-width="1" />
<text x="151.15" y="180.85" text-anchor="end" style="font-size:7px;font-weight:bold;" fill="#1a1a1a" transform="translate(151.15 178.33) scale(0.91 1.1) translate(-151.15 -178.33)" >1,000</text>
<line x1="153.05" y1="157" x2="155.75" y2="157" stroke="#333" stroke-width="1" />
<text x="151.15" y="159.52" text-anchor="end" style="font-size:7px;font-weight:bold;" fill="#1a1a1a" transform="translate(151.15 157) scale(0.91 1.1) translate(-151.15 -157)" >1,500</text>
<line x1="155.75" y1="221" x2="155.75" y2="223.7" stroke="#333" stroke-width="1" />
<text x="155.75" y="230.82" text-anchor="middle" style="font-size:7px;font-weight:bold;" fill="#1a1a1a" transform="translate(155.75 228.3) scale(0.91 1.1) translate(-155.75 -228.3)" >0</text>
<line x1="168.05" y1="221" x2="168.05" y2="223.7" stroke="#333" stroke-width="1" />
<text x="168.05" y="230.82" text-anchor="middle" style="font-size:7px;font-weight:bold;" fill="#1a1a1a" transform="translate(168.05 228.3) scale(0.91 1.1) translate(-168.05 -228.3)" >3</text>
<line x1="180.35" y1="221" x2="180.35" y2="223.7" stroke="#333" stroke-width="1" />
<text x="180.35" y="230.82" text-anchor="middle" style="font-size:7px;font-weight:bold;" fill="#1a1a1a" transform="translate(180.35 228.3) scale(0.91 1.1) translate(-180.35 -228.3)" >6</text>
<line x1="192.65" y1="221" x2="192.65" y2="223.7" stroke="#333" stroke-width="1" />
<text x="192.65" y="230.82" text-anchor="middle" style="font-size:7px;font-weight:bold;" fill="#1a1a1a" transform="translate(192.65 228.3) scale(0.91 1.1) translate(-192.65 -228.3)" >9</text>
<line x1="204.95" y1="221" x2="204.95" y2="223.7" stroke="#333" stroke-width="1" />
<text x="204.95" y="230.82" text-anchor="middle" style="font-size:7px;font-weight:bold;" fill="#1a1a1a" transform="translate(204.95 228.3) scale(0.91 1.1) translate(-204.95 -228.3)" >12</text>
<line x1="217.25" y1="221" x2="217.25" y2="223.7" stroke="#333" stroke-width="1" />
<text x="217.25" y="230.82" text-anchor="middle" style="font-size:7px;font-weight:bold;" fill="#1a1a1a" transform="translate(217.25 228.3) scale(0.91 1.1) translate(-217.25 -228.3)" >15</text>
<text x="192.5" y="147.31" text-anchor="middle" style="font-size:7.8px;font-weight:bold;" fill="#1a1a1a" transform="translate(192.5 144.5) scale(1 1.1) translate(-192.5 -144.5)" >MC38</text>
<line x1="226.27" y1="214.17" x2="226.27" y2="217.59" stroke="#ec8448" stroke-width="0.7" stroke-opacity="0.7"/>
<line x1="224.77" y1="214.17" x2="227.77" y2="214.17" stroke="#ec8448" stroke-width="0.7" stroke-opacity="0.7"/>
<line x1="224.77" y1="217.59" x2="227.77" y2="217.59" stroke="#ec8448" stroke-width="0.7" stroke-opacity="0.7"/>
<polyline points="159.85,216.73 168.05,216.31 184.45,216.31 196.75,216.73 213.15,217.16 226.27,215.88" fill="none" stroke="#ec8448" stroke-width="1.45" stroke-linejoin="round" />
<circle cx="159.85" cy="216.73" r="1.75" fill="#ec8448"/>
<circle cx="168.05" cy="216.31" r="1.75" fill="#ec8448"/>
<circle cx="184.45" cy="216.31" r="1.75" fill="#ec8448"/>
<circle cx="196.75" cy="216.73" r="1.75" fill="#ec8448"/>
<circle cx="213.15" cy="217.16" r="1.75" fill="#ec8448"/>
<circle cx="226.27" cy="215.88" r="1.75" fill="#ec8448"/>
<line x1="213.15" y1="207.35" x2="213.15" y2="212.47" stroke="#22228c" stroke-width="0.7" stroke-opacity="0.7"/>
<line x1="211.65" y1="207.35" x2="214.65" y2="207.35" stroke="#22228c" stroke-width="0.7" stroke-opacity="0.7"/>
<line x1="211.65" y1="212.47" x2="214.65" y2="212.47" stroke="#22228c" stroke-width="0.7" stroke-opacity="0.7"/>
<line x1="226.27" y1="203.08" x2="226.27" y2="210.76" stroke="#22228c" stroke-width="0.7" stroke-opacity="0.7"/>
<line x1="224.77" y1="203.08" x2="227.77" y2="203.08" stroke="#22228c" stroke-width="0.7" stroke-opacity="0.7"/>
<line x1="224.77" y1="210.76" x2="227.77" y2="210.76" stroke="#22228c" stroke-width="0.7" stroke-opacity="0.7"/>
<polyline points="159.85,216.73 168.05,215.88 184.45,215.45 196.75,215.45 213.15,209.91 226.27,206.92" fill="none" stroke="#22228c" stroke-width="1.45" stroke-linejoin="round" />
<circle cx="159.85" cy="216.73" r="1.75" fill="#22228c"/>
<circle cx="168.05" cy="215.88" r="1.75" fill="#22228c"/>
<circle cx="184.45" cy="215.45" r="1.75" fill="#22228c"/>
<circle cx="196.75" cy="215.45" r="1.75" fill="#22228c"/>
<circle cx="213.15" cy="209.91" r="1.75" fill="#22228c"/>
<circle cx="226.27" cy="206.92" r="1.75" fill="#22228c"/>
<line x1="213.15" y1="186.01" x2="213.15" y2="192.84" stroke="#111111" stroke-width="0.7" stroke-opacity="0.7"/>
<line x1="211.65" y1="186.01" x2="214.65" y2="186.01" stroke="#111111" stroke-width="0.7" stroke-opacity="0.7"/>
<line x1="211.65" y1="192.84" x2="214.65" y2="192.84" stroke="#111111" stroke-width="0.7" stroke-opacity="0.7"/>
<line x1="226.27" y1="168.09" x2="226.27" y2="176.63" stroke="#111111" stroke-width="0.7" stroke-opacity="0.7"/>
<line x1="224.77" y1="168.09" x2="227.77" y2="168.09" stroke="#111111" stroke-width="0.7" stroke-opacity="0.7"/>
<line x1="224.77" y1="176.63" x2="227.77" y2="176.63" stroke="#111111" stroke-width="0.7" stroke-opacity="0.7"/>
<polyline points="159.85,216.73 168.05,215.88 184.45,211.19 196.75,206.07 213.15,189.43 226.27,172.36" fill="none" stroke="#111111" stroke-width="1.45" stroke-linejoin="round" />
<circle cx="159.85" cy="216.73" r="1.75" fill="#111111"/>
<circle cx="168.05" cy="215.88" r="1.75" fill="#111111"/>
<circle cx="184.45" cy="211.19" r="1.75" fill="#111111"/>
<circle cx="196.75" cy="206.07" r="1.75" fill="#111111"/>
<circle cx="213.15" cy="189.43" r="1.75" fill="#111111"/>
<circle cx="226.27" cy="172.36" r="1.75" fill="#111111"/>
<polygon points="233.2,205.25 233.72,206.29 234.87,206.46 234.03,207.27 234.23,208.42 233.2,207.88 232.17,208.42 232.37,207.27 231.53,206.46 232.68,206.29" fill="#333" stroke="#333" stroke-width="0.5" stroke-linejoin="round"/>
<polygon points="237.75,205.25 238.27,206.29 239.42,206.46 238.58,207.27 238.78,208.42 237.75,207.88 236.72,208.42 236.92,207.27 236.08,206.46 237.23,206.29" fill="#333" stroke="#333" stroke-width="0.5" stroke-linejoin="round"/>
<polygon points="242.3,205.25 242.82,206.29 243.97,206.46 243.13,207.27 243.33,208.42 242.3,207.88 241.27,208.42 241.47,207.27 240.63,206.46 241.78,206.29" fill="#333" stroke="#333" stroke-width="0.5" stroke-linejoin="round"/>
<polygon points="246.85,205.25 247.37,206.29 248.52,206.46 247.68,207.27 247.88,208.42 246.85,207.88 245.82,208.42 246.02,207.27 245.18,206.46 246.33,206.29" fill="#333" stroke="#333" stroke-width="0.5" stroke-linejoin="round"/>
<polygon points="233.2,213.54 233.72,214.59 234.87,214.76 234.03,215.57 234.23,216.72 233.2,216.18 232.17,216.72 232.37,215.57 231.53,214.76 232.68,214.59" fill="#333" stroke="#333" stroke-width="0.5" stroke-linejoin="round"/>
<polygon points="237.75,213.54 238.27,214.59 239.42,214.76 238.58,215.57 238.78,216.72 237.75,216.18 236.72,216.72 236.92,215.57 236.08,214.76 237.23,214.59" fill="#333" stroke="#333" stroke-width="0.5" stroke-linejoin="round"/>
<polygon points="242.3,213.54 242.82,214.59 243.97,214.76 243.13,215.57 243.33,216.72 242.3,216.18 241.27,216.72 241.47,215.57 240.63,214.76 241.78,214.59" fill="#333" stroke="#333" stroke-width="0.5" stroke-linejoin="round"/>
<polygon points="246.85,213.54 247.37,214.59 248.52,214.76 247.68,215.57 247.88,216.72 246.85,216.18 245.82,216.72 246.02,215.57 245.18,214.76 246.33,214.59" fill="#333" stroke="#333" stroke-width="0.5" stroke-linejoin="round"/>
<line x1="279.4" y1="156.5" x2="279.4" y2="221.75" stroke="#333" stroke-width="1" />
<line x1="278.9" y1="221.25" x2="357" y2="221.25" stroke="#333" stroke-width="1" />
<line x1="276.7" y1="221.25" x2="279.4" y2="221.25" stroke="#333" stroke-width="1" />
<text x="274.8" y="223.77" text-anchor="end" style="font-size:7px;font-weight:bold;" fill="#1a1a1a" transform="translate(274.8 221.25) scale(0.91 1.1) translate(-274.8 -221.25)" >0</text>
<line x1="276.7" y1="199.83" x2="279.4" y2="199.83" stroke="#333" stroke-width="1" />
<text x="274.8" y="202.35" text-anchor="end" style="font-size:7px;font-weight:bold;" fill="#1a1a1a" transform="translate(274.8 199.83) scale(0.91 1.1) translate(-274.8 -199.83)" >500</text>
<line x1="276.7" y1="178.42" x2="279.4" y2="178.42" stroke="#333" stroke-width="1" />
<text x="274.8" y="180.94" text-anchor="end" style="font-size:7px;font-weight:bold;" fill="#1a1a1a" transform="translate(274.8 178.42) scale(0.91 1.1) translate(-274.8 -178.42)" >1,000</text>
<line x1="276.7" y1="157" x2="279.4" y2="157" stroke="#333" stroke-width="1" />
<text x="274.8" y="159.52" text-anchor="end" style="font-size:7px;font-weight:bold;" fill="#1a1a1a" transform="translate(274.8 157) scale(0.91 1.1) translate(-274.8 -157)" >1,500</text>
<line x1="279.6" y1="221.25" x2="279.6" y2="223.95" stroke="#333" stroke-width="1" />
<text x="279.6" y="231.07" text-anchor="middle" style="font-size:7px;font-weight:bold;" fill="#1a1a1a" transform="translate(279.6 228.55) scale(0.91 1.1) translate(-279.6 -228.55)" >0</text>
<line x1="294.84" y1="221.25" x2="294.84" y2="223.95" stroke="#333" stroke-width="1" />
<text x="294.84" y="231.07" text-anchor="middle" style="font-size:7px;font-weight:bold;" fill="#1a1a1a" transform="translate(294.84 228.55) scale(0.91 1.1) translate(-294.84 -228.55)" >3</text>
<line x1="310.08" y1="221.25" x2="310.08" y2="223.95" stroke="#333" stroke-width="1" />
<text x="310.08" y="231.07" text-anchor="middle" style="font-size:7px;font-weight:bold;" fill="#1a1a1a" transform="translate(310.08 228.55) scale(0.91 1.1) translate(-310.08 -228.55)" >6</text>
<line x1="325.32" y1="221.25" x2="325.32" y2="223.95" stroke="#333" stroke-width="1" />
<text x="325.32" y="231.07" text-anchor="middle" style="font-size:7px;font-weight:bold;" fill="#1a1a1a" transform="translate(325.32 228.55) scale(0.91 1.1) translate(-325.32 -228.55)" >9</text>
<line x1="340.56" y1="221.25" x2="340.56" y2="223.95" stroke="#333" stroke-width="1" />
<text x="340.56" y="231.07" text-anchor="middle" style="font-size:7px;font-weight:bold;" fill="#1a1a1a" transform="translate(340.56 228.55) scale(0.91 1.1) translate(-340.56 -228.55)" >12</text>
<line x1="355.8" y1="221.25" x2="355.8" y2="223.95" stroke="#333" stroke-width="1" />
<text x="355.8" y="231.07" text-anchor="middle" style="font-size:7px;font-weight:bold;" fill="#1a1a1a" transform="translate(355.8 228.55) scale(0.91 1.1) translate(-355.8 -228.55)" >15</text>
<text x="320" y="147.31" text-anchor="middle" style="font-size:7.8px;font-weight:bold;" fill="#1a1a1a" transform="translate(320 144.5) scale(1 1.1) translate(-320 -144.5)" >CT26</text>
<line x1="340.56" y1="213.97" x2="340.56" y2="216.54" stroke="#ec8448" stroke-width="0.7" stroke-opacity="0.7"/>
<line x1="339.06" y1="213.97" x2="342.06" y2="213.97" stroke="#ec8448" stroke-width="0.7" stroke-opacity="0.7"/>
<line x1="339.06" y1="216.54" x2="342.06" y2="216.54" stroke="#ec8448" stroke-width="0.7" stroke-opacity="0.7"/>
<line x1="355.8" y1="213.97" x2="355.8" y2="216.54" stroke="#ec8448" stroke-width="0.7" stroke-opacity="0.7"/>
<line x1="354.3" y1="213.97" x2="357.3" y2="213.97" stroke="#ec8448" stroke-width="0.7" stroke-opacity="0.7"/>
<line x1="354.3" y1="216.54" x2="357.3" y2="216.54" stroke="#ec8448" stroke-width="0.7" stroke-opacity="0.7"/>
<polyline points="284.68,217.4 305,215.68 320.24,213.97 340.56,215.25 355.8,215.25" fill="none" stroke="#ec8448" stroke-width="1.45" stroke-linejoin="round" />
<circle cx="284.68" cy="217.4" r="1.75" fill="#ec8448"/>
<circle cx="305" cy="215.68" r="1.75" fill="#ec8448"/>
<circle cx="320.24" cy="213.97" r="1.75" fill="#ec8448"/>
<circle cx="340.56" cy="215.25" r="1.75" fill="#ec8448"/>
<circle cx="355.8" cy="215.25" r="1.75" fill="#ec8448"/>
<line x1="340.56" y1="209.26" x2="340.56" y2="212.68" stroke="#22228c" stroke-width="0.7" stroke-opacity="0.7"/>
<line x1="339.06" y1="209.26" x2="342.06" y2="209.26" stroke="#22228c" stroke-width="0.7" stroke-opacity="0.7"/>
<line x1="339.06" y1="212.68" x2="342.06" y2="212.68" stroke="#22228c" stroke-width="0.7" stroke-opacity="0.7"/>
<line x1="355.8" y1="207.12" x2="355.8" y2="213.11" stroke="#22228c" stroke-width="0.7" stroke-opacity="0.7"/>
<line x1="354.3" y1="207.12" x2="357.3" y2="207.12" stroke="#22228c" stroke-width="0.7" stroke-opacity="0.7"/>
<line x1="354.3" y1="213.11" x2="357.3" y2="213.11" stroke="#22228c" stroke-width="0.7" stroke-opacity="0.7"/>
<polyline points="284.68,217.4 305,214.82 320.24,213.11 340.56,210.97 355.8,210.11" fill="none" stroke="#22228c" stroke-width="1.45" stroke-linejoin="round" />
<circle cx="284.68" cy="217.4" r="1.75" fill="#22228c"/>
<circle cx="305" cy="214.82" r="1.75" fill="#22228c"/>
<circle cx="320.24" cy="213.11" r="1.75" fill="#22228c"/>
<circle cx="340.56" cy="210.97" r="1.75" fill="#22228c"/>
<circle cx="355.8" cy="210.11" r="1.75" fill="#22228c"/>
<line x1="340.56" y1="191.27" x2="340.56" y2="196.41" stroke="#111111" stroke-width="0.7" stroke-opacity="0.7"/>
<line x1="339.06" y1="191.27" x2="342.06" y2="191.27" stroke="#111111" stroke-width="0.7" stroke-opacity="0.7"/>
<line x1="339.06" y1="196.41" x2="342.06" y2="196.41" stroke="#111111" stroke-width="0.7" stroke-opacity="0.7"/>
<line x1="355.8" y1="162.57" x2="355.8" y2="175.42" stroke="#111111" stroke-width="0.7" stroke-opacity="0.7"/>
<line x1="354.3" y1="162.57" x2="357.3" y2="162.57" stroke="#111111" stroke-width="0.7" stroke-opacity="0.7"/>
<line x1="354.3" y1="175.42" x2="357.3" y2="175.42" stroke="#111111" stroke-width="0.7" stroke-opacity="0.7"/>
<polyline points="284.68,217.4 305,213.97 320.24,205.4 340.56,193.84 355.8,168.99" fill="none" stroke="#111111" stroke-width="1.45" stroke-linejoin="round" />
<rect x="282.93" y="215.65" width="3.5" height="3.5" fill="#111111"/>
<rect x="303.25" y="212.22" width="3.5" height="3.5" fill="#111111"/>
<rect x="318.49" y="203.65" width="3.5" height="3.5" fill="#111111"/>
<rect x="338.81" y="192.09" width="3.5" height="3.5" fill="#111111"/>
<rect x="354.05" y="167.24" width="3.5" height="3.5" fill="#111111"/>
<polygon points="364.2,205.65 364.72,206.69 365.87,206.86 365.03,207.67 365.23,208.82 364.2,208.28 363.17,208.82 363.37,207.67 362.53,206.86 363.68,206.69" fill="#333" stroke="#333" stroke-width="0.5" stroke-linejoin="round"/>
<polygon points="368.8,205.65 369.32,206.69 370.47,206.86 369.63,207.67 369.83,208.82 368.8,208.28 367.77,208.82 367.97,207.67 367.13,206.86 368.28,206.69" fill="#333" stroke="#333" stroke-width="0.5" stroke-linejoin="round"/>
<polygon points="373.4,205.65 373.92,206.69 375.07,206.86 374.23,207.67 374.43,208.82 373.4,208.28 372.37,208.82 372.57,207.67 371.73,206.86 372.88,206.69" fill="#333" stroke="#333" stroke-width="0.5" stroke-linejoin="round"/>
<polygon points="378,205.65 378.52,206.69 379.67,206.86 378.83,207.67 379.03,208.82 378,208.28 376.97,208.82 377.17,207.67 376.33,206.86 377.48,206.69" fill="#333" stroke="#333" stroke-width="0.5" stroke-linejoin="round"/>
<polygon points="364.2,213.75 364.72,214.79 365.87,214.96 365.03,215.77 365.23,216.92 364.2,216.38 363.17,216.92 363.37,215.77 362.53,214.96 363.68,214.79" fill="#333" stroke="#333" stroke-width="0.5" stroke-linejoin="round"/>
<polygon points="368.8,213.75 369.32,214.79 370.47,214.96 369.63,215.77 369.83,216.92 368.8,216.38 367.77,216.92 367.97,215.77 367.13,214.96 368.28,214.79" fill="#333" stroke="#333" stroke-width="0.5" stroke-linejoin="round"/>
<polygon points="373.4,213.75 373.92,214.79 375.07,214.96 374.23,215.77 374.43,216.92 373.4,216.38 372.37,216.92 372.57,215.77 371.73,214.96 372.88,214.79" fill="#333" stroke="#333" stroke-width="0.5" stroke-linejoin="round"/>
<polygon points="378,213.75 378.52,214.79 379.67,214.96 378.83,215.77 379.03,216.92 378,216.38 376.97,216.92 377.17,215.77 376.33,214.96 377.48,214.79" fill="#333" stroke="#333" stroke-width="0.5" stroke-linejoin="round"/>
<line x1="407" y1="156.5" x2="407" y2="221.75" stroke="#333" stroke-width="1" />
<line x1="406.5" y1="221.25" x2="479" y2="221.25" stroke="#333" stroke-width="1" />
<line x1="404.3" y1="221.25" x2="407" y2="221.25" stroke="#333" stroke-width="1" />
<text x="402.4" y="223.77" text-anchor="end" style="font-size:7px;font-weight:bold;" fill="#1a1a1a" transform="translate(402.4 221.25) scale(0.91 1.1) translate(-402.4 -221.25)" >0</text>
<line x1="404.3" y1="199.83" x2="407" y2="199.83" stroke="#333" stroke-width="1" />
<text x="402.4" y="202.35" text-anchor="end" style="font-size:7px;font-weight:bold;" fill="#1a1a1a" transform="translate(402.4 199.83) scale(0.91 1.1) translate(-402.4 -199.83)" >500</text>
<line x1="404.3" y1="178.42" x2="407" y2="178.42" stroke="#333" stroke-width="1" />
<text x="402.4" y="180.94" text-anchor="end" style="font-size:7px;font-weight:bold;" fill="#1a1a1a" transform="translate(402.4 178.42) scale(0.91 1.1) translate(-402.4 -178.42)" >1,000</text>
<line x1="404.3" y1="157" x2="407" y2="157" stroke="#333" stroke-width="1" />
<text x="402.4" y="159.52" text-anchor="end" style="font-size:7px;font-weight:bold;" fill="#1a1a1a" transform="translate(402.4 157) scale(0.91 1.1) translate(-402.4 -157)" >1,500</text>
<line x1="407.5" y1="221.25" x2="407.5" y2="223.95" stroke="#333" stroke-width="1" />
<text x="407.5" y="231.07" text-anchor="middle" style="font-size:7px;font-weight:bold;" fill="#1a1a1a" transform="translate(407.5 228.55) scale(0.91 1.1) translate(-407.5 -228.55)" >0</text>
<line x1="420.4" y1="221.25" x2="420.4" y2="223.95" stroke="#333" stroke-width="1" />
<text x="420.4" y="231.07" text-anchor="middle" style="font-size:7px;font-weight:bold;" fill="#1a1a1a" transform="translate(420.4 228.55) scale(0.91 1.1) translate(-420.4 -228.55)" >2</text>
<line x1="433.3" y1="221.25" x2="433.3" y2="223.95" stroke="#333" stroke-width="1" />
<text x="433.3" y="231.07" text-anchor="middle" style="font-size:7px;font-weight:bold;" fill="#1a1a1a" transform="translate(433.3 228.55) scale(0.91 1.1) translate(-433.3 -228.55)" >4</text>
<line x1="446.2" y1="221.25" x2="446.2" y2="223.95" stroke="#333" stroke-width="1" />
<text x="446.2" y="231.07" text-anchor="middle" style="font-size:7px;font-weight:bold;" fill="#1a1a1a" transform="translate(446.2 228.55) scale(0.91 1.1) translate(-446.2 -228.55)" >6</text>
<line x1="459.1" y1="221.25" x2="459.1" y2="223.95" stroke="#333" stroke-width="1" />
<text x="459.1" y="231.07" text-anchor="middle" style="font-size:7px;font-weight:bold;" fill="#1a1a1a" transform="translate(459.1 228.55) scale(0.91 1.1) translate(-459.1 -228.55)" >8</text>
<line x1="472" y1="221.25" x2="472" y2="223.95" stroke="#333" stroke-width="1" />
<text x="472" y="231.07" text-anchor="middle" style="font-size:7px;font-weight:bold;" fill="#1a1a1a" transform="translate(472 228.55) scale(0.91 1.1) translate(-472 -228.55)" >10</text>
<text x="446.25" y="147.31" text-anchor="middle" style="font-size:7.8px;font-weight:bold;" fill="#1a1a1a" transform="translate(446.25 144.5) scale(1.08 1.1) translate(-446.25 -144.5)" >B16F10N1</text>
<polyline points="413.95,218.25 439.75,218.68 459.1,219.97 478.45,220.82" fill="none" stroke="#ec8448" stroke-width="1.45" stroke-linejoin="round" />
<circle cx="413.95" cy="218.25" r="1.75" fill="#ec8448"/>
<circle cx="439.75" cy="218.68" r="1.75" fill="#ec8448"/>
<circle cx="459.1" cy="219.97" r="1.75" fill="#ec8448"/>
<circle cx="478.45" cy="220.82" r="1.75" fill="#ec8448"/>
<polyline points="413.95,218.25 439.75,217.4 459.1,216.97 478.45,217.4" fill="none" stroke="#22228c" stroke-width="1.45" stroke-linejoin="round" />
<circle cx="413.95" cy="218.25" r="1.75" fill="#22228c"/>
<circle cx="439.75" cy="217.4" r="1.75" fill="#22228c"/>
<circle cx="459.1" cy="216.97" r="1.75" fill="#22228c"/>
<circle cx="478.45" cy="217.4" r="1.75" fill="#22228c"/>
<line x1="439.75" y1="211.4" x2="439.75" y2="213.11" stroke="#111111" stroke-width="0.7" stroke-opacity="0.7"/>
<line x1="438.25" y1="211.4" x2="441.25" y2="211.4" stroke="#111111" stroke-width="0.7" stroke-opacity="0.7"/>
<line x1="438.25" y1="213.11" x2="441.25" y2="213.11" stroke="#111111" stroke-width="0.7" stroke-opacity="0.7"/>
<line x1="459.1" y1="196.84" x2="459.1" y2="201.97" stroke="#111111" stroke-width="0.7" stroke-opacity="0.7"/>
<line x1="457.6" y1="196.84" x2="460.6" y2="196.84" stroke="#111111" stroke-width="0.7" stroke-opacity="0.7"/>
<line x1="457.6" y1="201.97" x2="460.6" y2="201.97" stroke="#111111" stroke-width="0.7" stroke-opacity="0.7"/>
<line x1="478.45" y1="159.57" x2="478.45" y2="182.7" stroke="#111111" stroke-width="0.7" stroke-opacity="0.7"/>
<line x1="476.95" y1="159.57" x2="479.95" y2="159.57" stroke="#111111" stroke-width="0.7" stroke-opacity="0.7"/>
<line x1="476.95" y1="182.7" x2="479.95" y2="182.7" stroke="#111111" stroke-width="0.7" stroke-opacity="0.7"/>
<polyline points="413.95,218.25 439.75,212.25 459.1,199.41 478.45,171.13" fill="none" stroke="#111111" stroke-width="1.45" stroke-linejoin="round" />
<rect x="412.2" y="216.5" width="3.5" height="3.5" fill="#111111"/>
<rect x="438" y="210.5" width="3.5" height="3.5" fill="#111111"/>
<rect x="457.35" y="197.66" width="3.5" height="3.5" fill="#111111"/>
<rect x="476.7" y="169.38" width="3.5" height="3.5" fill="#111111"/>
<polygon points="486.5,214.25 487.02,215.29 488.17,215.46 487.33,216.27 487.53,217.42 486.5,216.88 485.47,217.42 485.67,216.27 484.83,215.46 485.98,215.29" fill="#333" stroke="#333" stroke-width="0.5" stroke-linejoin="round"/>
<polygon points="491.1,214.25 491.62,215.29 492.77,215.46 491.93,216.27 492.13,217.42 491.1,216.88 490.07,217.42 490.27,216.27 489.43,215.46 490.58,215.29" fill="#333" stroke="#333" stroke-width="0.5" stroke-linejoin="round"/>
<polygon points="495.7,214.25 496.22,215.29 497.37,215.46 496.53,216.27 496.73,217.42 495.7,216.88 494.67,217.42 494.87,216.27 494.03,215.46 495.18,215.29" fill="#333" stroke="#333" stroke-width="0.5" stroke-linejoin="round"/>
<polygon points="500.3,214.25 500.82,215.29 501.97,215.46 501.13,216.27 501.33,217.42 500.3,216.88 499.27,217.42 499.47,216.27 498.63,215.46 499.78,215.29" fill="#333" stroke="#333" stroke-width="0.5" stroke-linejoin="round"/>
<polygon points="486.5,220.44 487.02,221.49 488.17,221.66 487.33,222.47 487.53,223.62 486.5,223.08 485.47,223.62 485.67,222.47 484.83,221.66 485.98,221.49" fill="#333" stroke="#333" stroke-width="0.5" stroke-linejoin="round"/>
<polygon points="491.1,220.44 491.62,221.49 492.77,221.66 491.93,222.47 492.13,223.62 491.1,223.08 490.07,223.62 490.27,222.47 489.43,221.66 490.58,221.49" fill="#333" stroke="#333" stroke-width="0.5" stroke-linejoin="round"/>
<polygon points="495.7,220.44 496.22,221.49 497.37,221.66 496.53,222.47 496.73,223.62 495.7,223.08 494.67,223.62 494.87,222.47 494.03,221.66 495.18,221.49" fill="#333" stroke="#333" stroke-width="0.5" stroke-linejoin="round"/>
<polygon points="500.3,220.44 500.82,221.49 501.97,221.66 501.13,222.47 501.33,223.62 500.3,223.08 499.27,223.62 499.47,222.47 498.63,221.66 499.78,221.49" fill="#333" stroke="#333" stroke-width="0.5" stroke-linejoin="round"/>
<line x1="40" y1="248.2" x2="40" y2="313.3" stroke="#333" stroke-width="1" />
<line x1="39.5" y1="312.8" x2="109" y2="312.8" stroke="#333" stroke-width="1" />
<line x1="37.3" y1="312.8" x2="40" y2="312.8" stroke="#333" stroke-width="1" />
<text x="35.4" y="315.32" text-anchor="end" style="font-size:7px;font-weight:bold;" fill="#1a1a1a" transform="translate(35.4 312.8) scale(0.91 1.1) translate(-35.4 -312.8)" >0</text>
<line x1="37.3" y1="296.77" x2="40" y2="296.77" stroke="#333" stroke-width="1" />
<text x="35.4" y="299.29" text-anchor="end" style="font-size:7px;font-weight:bold;" fill="#1a1a1a" transform="translate(35.4 296.77) scale(0.91 1.1) translate(-35.4 -296.77)" >250</text>
<line x1="37.3" y1="280.75" x2="40" y2="280.75" stroke="#333" stroke-width="1" />
<text x="35.4" y="283.27" text-anchor="end" style="font-size:7px;font-weight:bold;" fill="#1a1a1a" transform="translate(35.4 280.75) scale(0.91 1.1) translate(-35.4 -280.75)" >500</text>
<line x1="37.3" y1="264.73" x2="40" y2="264.73" stroke="#333" stroke-width="1" />
<text x="35.4" y="267.25" text-anchor="end" style="font-size:7px;font-weight:bold;" fill="#1a1a1a" transform="translate(35.4 264.73) scale(0.91 1.1) translate(-35.4 -264.73)" >750</text>
<line x1="37.3" y1="248.7" x2="40" y2="248.7" stroke="#333" stroke-width="1" />
<text x="35.4" y="251.22" text-anchor="end" style="font-size:7px;font-weight:bold;" fill="#1a1a1a" transform="translate(35.4 248.7) scale(0.91 1.1) translate(-35.4 -248.7)" >1,000</text>
<line x1="40" y1="312.8" x2="40" y2="315.5" stroke="#333" stroke-width="1" />
<text x="40" y="322.62" text-anchor="middle" style="font-size:7px;font-weight:bold;" fill="#1a1a1a" transform="translate(40 320.1) scale(0.91 1.1) translate(-40 -320.1)" >0</text>
<line x1="52" y1="312.8" x2="52" y2="315.5" stroke="#333" stroke-width="1" />
<text x="52" y="322.62" text-anchor="middle" style="font-size:7px;font-weight:bold;" fill="#1a1a1a" transform="translate(52 320.1) scale(0.91 1.1) translate(-52 -320.1)" >3</text>
<line x1="64" y1="312.8" x2="64" y2="315.5" stroke="#333" stroke-width="1" />
<text x="64" y="322.62" text-anchor="middle" style="font-size:7px;font-weight:bold;" fill="#1a1a1a" transform="translate(64 320.1) scale(0.91 1.1) translate(-64 -320.1)" >6</text>
<line x1="76" y1="312.8" x2="76" y2="315.5" stroke="#333" stroke-width="1" />
<text x="76" y="322.62" text-anchor="middle" style="font-size:7px;font-weight:bold;" fill="#1a1a1a" transform="translate(76 320.1) scale(0.91 1.1) translate(-76 -320.1)" >9</text>
<line x1="88" y1="312.8" x2="88" y2="315.5" stroke="#333" stroke-width="1" />
<text x="88" y="322.62" text-anchor="middle" style="font-size:7px;font-weight:bold;" fill="#1a1a1a" transform="translate(88 320.1) scale(0.91 1.1) translate(-88 -320.1)" >12</text>
<line x1="100" y1="312.8" x2="100" y2="315.5" stroke="#333" stroke-width="1" />
<text x="100" y="322.62" text-anchor="middle" style="font-size:7px;font-weight:bold;" fill="#1a1a1a" transform="translate(100 320.1) scale(0.91 1.1) translate(-100 -320.1)" >15</text>
<text x="2.9" y="284.81" text-anchor="middle" style="font-size:7.8px;font-weight:bold;" fill="#1a1a1a" transform="translate(2.9 282) rotate(-90) scale(1 1.1) translate(-2.9 -282)" >Contralateral</text>
<text x="11.4" y="284.61" text-anchor="middle" style="font-size:7.8px;font-weight:bold;" fill="#1a1a1a" transform="translate(11.4 281.8) rotate(-90) scale(1 1.1) translate(-11.4 -281.8)" >tumor volume mm<tspan dy="-2.6" style="font-size:5.2px">3</tspan></text>
<line x1="96" y1="301.9" x2="96" y2="309.6" stroke="#ec8448" stroke-width="0.7" stroke-opacity="0.7"/>
<line x1="94.5" y1="301.9" x2="97.5" y2="301.9" stroke="#ec8448" stroke-width="0.7" stroke-opacity="0.7"/>
<line x1="94.5" y1="309.6" x2="97.5" y2="309.6" stroke="#ec8448" stroke-width="0.7" stroke-opacity="0.7"/>
<line x1="108.8" y1="288.44" x2="108.8" y2="308.95" stroke="#ec8448" stroke-width="0.7" stroke-opacity="0.7"/>
<line x1="107.3" y1="288.44" x2="110.3" y2="288.44" stroke="#ec8448" stroke-width="0.7" stroke-opacity="0.7"/>
<line x1="107.3" y1="308.95" x2="110.3" y2="308.95" stroke="#ec8448" stroke-width="0.7" stroke-opacity="0.7"/>
<polyline points="44,306.39 52,304.47 68,304.47 80,305.11 96,305.75 108.8,298.7" fill="none" stroke="#ec8448" stroke-width="1.45" stroke-linejoin="round" />
<circle cx="44" cy="306.39" r="1.75" fill="#ec8448"/>
<circle cx="52" cy="304.47" r="1.75" fill="#ec8448"/>
<circle cx="68" cy="304.47" r="1.75" fill="#ec8448"/>
<circle cx="80" cy="305.11" r="1.75" fill="#ec8448"/>
<circle cx="96" cy="305.75" r="1.75" fill="#ec8448"/>
<circle cx="108.8" cy="298.7" r="1.75" fill="#ec8448"/>
<line x1="80" y1="298.7" x2="80" y2="303.83" stroke="#22228c" stroke-width="0.7" stroke-opacity="0.7"/>
<line x1="78.5" y1="298.7" x2="81.5" y2="298.7" stroke="#22228c" stroke-width="0.7" stroke-opacity="0.7"/>
<line x1="78.5" y1="303.83" x2="81.5" y2="303.83" stroke="#22228c" stroke-width="0.7" stroke-opacity="0.7"/>
<line x1="96" y1="285.24" x2="96" y2="296.77" stroke="#22228c" stroke-width="0.7" stroke-opacity="0.7"/>
<line x1="94.5" y1="285.24" x2="97.5" y2="285.24" stroke="#22228c" stroke-width="0.7" stroke-opacity="0.7"/>
<line x1="94.5" y1="296.77" x2="97.5" y2="296.77" stroke="#22228c" stroke-width="0.7" stroke-opacity="0.7"/>
<line x1="108.8" y1="262.16" x2="108.8" y2="281.39" stroke="#22228c" stroke-width="0.7" stroke-opacity="0.7"/>
<line x1="107.3" y1="262.16" x2="110.3" y2="262.16" stroke="#22228c" stroke-width="0.7" stroke-opacity="0.7"/>
<line x1="107.3" y1="281.39" x2="110.3" y2="281.39" stroke="#22228c" stroke-width="0.7" stroke-opacity="0.7"/>
<polyline points="44,306.39 52,303.83 68,303.19 80,301.26 96,291.01 108.8,271.78" fill="none" stroke="#22228c" stroke-width="1.45" stroke-linejoin="round" />
<rect x="42.25" y="304.64" width="3.5" height="3.5" fill="#22228c"/>
<rect x="50.25" y="302.08" width="3.5" height="3.5" fill="#22228c"/>
<rect x="66.25" y="301.44" width="3.5" height="3.5" fill="#22228c"/>
<rect x="78.25" y="299.51" width="3.5" height="3.5" fill="#22228c"/>
<rect x="94.25" y="289.26" width="3.5" height="3.5" fill="#22228c"/>
<rect x="107.05" y="270.03" width="3.5" height="3.5" fill="#22228c"/>
<line x1="80" y1="293.57" x2="80" y2="297.42" stroke="#111111" stroke-width="0.7" stroke-opacity="0.7"/>
<line x1="78.5" y1="293.57" x2="81.5" y2="293.57" stroke="#111111" stroke-width="0.7" stroke-opacity="0.7"/>
<line x1="78.5" y1="297.42" x2="81.5" y2="297.42" stroke="#111111" stroke-width="0.7" stroke-opacity="0.7"/>
<line x1="96" y1="273.06" x2="96" y2="284.6" stroke="#111111" stroke-width="0.7" stroke-opacity="0.7"/>
<line x1="94.5" y1="273.06" x2="97.5" y2="273.06" stroke="#111111" stroke-width="0.7" stroke-opacity="0.7"/>
<line x1="94.5" y1="284.6" x2="97.5" y2="284.6" stroke="#111111" stroke-width="0.7" stroke-opacity="0.7"/>
<line x1="108.8" y1="253.83" x2="108.8" y2="271.78" stroke="#111111" stroke-width="0.7" stroke-opacity="0.7"/>
<line x1="107.3" y1="253.83" x2="110.3" y2="253.83" stroke="#111111" stroke-width="0.7" stroke-opacity="0.7"/>
<line x1="107.3" y1="271.78" x2="110.3" y2="271.78" stroke="#111111" stroke-width="0.7" stroke-opacity="0.7"/>
<polyline points="44,306.39 52,301.9 68,299.34 80,295.49 96,278.83 108.8,262.8" fill="none" stroke="#111111" stroke-width="1.45" stroke-linejoin="round" />
<circle cx="44" cy="306.39" r="1.75" fill="#111111"/>
<circle cx="52" cy="301.9" r="1.75" fill="#111111"/>
<circle cx="68" cy="299.34" r="1.75" fill="#111111"/>
<circle cx="80" cy="295.49" r="1.75" fill="#111111"/>
<circle cx="96" cy="278.83" r="1.75" fill="#111111"/>
<circle cx="108.8" cy="262.8" r="1.75" fill="#111111"/>
<text x="112.8" y="273.02" text-anchor="start" style="font-size:7px;font-weight:bold;" fill="#1a1a1a" transform="translate(112.8 270.5) scale(1 1.1) translate(-112.8 -270.5)" >ns</text>
<polygon points="115.1,297.45 115.62,298.49 116.77,298.66 115.93,299.47 116.13,300.62 115.1,300.08 114.07,300.62 114.27,299.47 113.43,298.66 114.58,298.49" fill="#333" stroke="#333" stroke-width="0.5" stroke-linejoin="round"/>
<polygon points="119.75,297.45 120.27,298.49 121.42,298.66 120.58,299.47 120.78,300.62 119.75,300.08 118.72,300.62 118.92,299.47 118.08,298.66 119.23,298.49" fill="#333" stroke="#333" stroke-width="0.5" stroke-linejoin="round"/>
<polygon points="124.4,297.45 124.92,298.49 126.07,298.66 125.23,299.47 125.43,300.62 124.4,300.08 123.37,300.62 123.57,299.47 122.73,298.66 123.88,298.49" fill="#333" stroke="#333" stroke-width="0.5" stroke-linejoin="round"/>
<polygon points="129.05,297.45 129.57,298.49 130.72,298.66 129.88,299.47 130.08,300.62 129.05,300.08 128.02,300.62 128.22,299.47 127.38,298.66 128.53,298.49" fill="#333" stroke="#333" stroke-width="0.5" stroke-linejoin="round"/>
<line x1="157" y1="247.5" x2="157" y2="313" stroke="#333" stroke-width="1" />
<line x1="156.5" y1="312.5" x2="226" y2="312.5" stroke="#333" stroke-width="1" />
<line x1="154.3" y1="312.5" x2="157" y2="312.5" stroke="#333" stroke-width="1" />
<text x="152.4" y="315.02" text-anchor="end" style="font-size:7px;font-weight:bold;" fill="#1a1a1a" transform="translate(152.4 312.5) scale(0.91 1.1) translate(-152.4 -312.5)" >0</text>
<line x1="154.3" y1="291" x2="157" y2="291" stroke="#333" stroke-width="1" />
<text x="152.4" y="293.52" text-anchor="end" style="font-size:7px;font-weight:bold;" fill="#1a1a1a" transform="translate(152.4 291) scale(0.91 1.1) translate(-152.4 -291)" >500</text>
<line x1="154.3" y1="269.5" x2="157" y2="269.5" stroke="#333" stroke-width="1" />
<text x="152.4" y="272.02" text-anchor="end" style="font-size:7px;font-weight:bold;" fill="#1a1a1a" transform="translate(152.4 269.5) scale(0.91 1.1) translate(-152.4 -269.5)" >1,000</text>
<line x1="154.3" y1="248" x2="157" y2="248" stroke="#333" stroke-width="1" />
<text x="152.4" y="250.52" text-anchor="end" style="font-size:7px;font-weight:bold;" fill="#1a1a1a" transform="translate(152.4 248) scale(0.91 1.1) translate(-152.4 -248)" >1,500</text>
<line x1="156.25" y1="312.5" x2="156.25" y2="315.2" stroke="#333" stroke-width="1" />
<text x="156.25" y="322.32" text-anchor="middle" style="font-size:7px;font-weight:bold;" fill="#1a1a1a" transform="translate(156.25 319.8) scale(0.91 1.1) translate(-156.25 -319.8)" >0</text>
<line x1="168.55" y1="312.5" x2="168.55" y2="315.2" stroke="#333" stroke-width="1" />
<text x="168.55" y="322.32" text-anchor="middle" style="font-size:7px;font-weight:bold;" fill="#1a1a1a" transform="translate(168.55 319.8) scale(0.91 1.1) translate(-168.55 -319.8)" >3</text>
<line x1="180.85" y1="312.5" x2="180.85" y2="315.2" stroke="#333" stroke-width="1" />
<text x="180.85" y="322.32" text-anchor="middle" style="font-size:7px;font-weight:bold;" fill="#1a1a1a" transform="translate(180.85 319.8) scale(0.91 1.1) translate(-180.85 -319.8)" >6</text>
<line x1="193.15" y1="312.5" x2="193.15" y2="315.2" stroke="#333" stroke-width="1" />
<text x="193.15" y="322.32" text-anchor="middle" style="font-size:7px;font-weight:bold;" fill="#1a1a1a" transform="translate(193.15 319.8) scale(0.91 1.1) translate(-193.15 -319.8)" >9</text>
<line x1="205.45" y1="312.5" x2="205.45" y2="315.2" stroke="#333" stroke-width="1" />
<text x="205.45" y="322.32" text-anchor="middle" style="font-size:7px;font-weight:bold;" fill="#1a1a1a" transform="translate(205.45 319.8) scale(0.91 1.1) translate(-205.45 -319.8)" >12</text>
<line x1="217.75" y1="312.5" x2="217.75" y2="315.2" stroke="#333" stroke-width="1" />
<text x="217.75" y="322.32" text-anchor="middle" style="font-size:7px;font-weight:bold;" fill="#1a1a1a" transform="translate(217.75 319.8) scale(0.91 1.1) translate(-217.75 -319.8)" >15</text>
<line x1="213.65" y1="300.03" x2="213.65" y2="302.61" stroke="#ec8448" stroke-width="0.7" stroke-opacity="0.7"/>
<line x1="212.15" y1="300.03" x2="215.15" y2="300.03" stroke="#ec8448" stroke-width="0.7" stroke-opacity="0.7"/>
<line x1="212.15" y1="302.61" x2="215.15" y2="302.61" stroke="#ec8448" stroke-width="0.7" stroke-opacity="0.7"/>
<line x1="226.77" y1="294.01" x2="226.77" y2="299.17" stroke="#ec8448" stroke-width="0.7" stroke-opacity="0.7"/>
<line x1="225.27" y1="294.01" x2="228.27" y2="294.01" stroke="#ec8448" stroke-width="0.7" stroke-opacity="0.7"/>
<line x1="225.27" y1="299.17" x2="228.27" y2="299.17" stroke="#ec8448" stroke-width="0.7" stroke-opacity="0.7"/>
<polyline points="160.35,308.63 168.55,308.2 184.95,306.48 197.25,305.62 213.65,301.32 226.77,296.59" fill="none" stroke="#ec8448" stroke-width="1.45" stroke-linejoin="round" />
<circle cx="160.35" cy="308.63" r="1.75" fill="#ec8448"/>
<circle cx="168.55" cy="308.2" r="1.75" fill="#ec8448"/>
<circle cx="184.95" cy="306.48" r="1.75" fill="#ec8448"/>
<circle cx="197.25" cy="305.62" r="1.75" fill="#ec8448"/>
<circle cx="213.65" cy="301.32" r="1.75" fill="#ec8448"/>
<circle cx="226.77" cy="296.59" r="1.75" fill="#ec8448"/>
<line x1="213.65" y1="291.43" x2="213.65" y2="294.87" stroke="#22228c" stroke-width="0.7" stroke-opacity="0.7"/>
<line x1="212.15" y1="291.43" x2="215.15" y2="291.43" stroke="#22228c" stroke-width="0.7" stroke-opacity="0.7"/>
<line x1="212.15" y1="294.87" x2="215.15" y2="294.87" stroke="#22228c" stroke-width="0.7" stroke-opacity="0.7"/>
<line x1="226.77" y1="282.83" x2="226.77" y2="287.99" stroke="#22228c" stroke-width="0.7" stroke-opacity="0.7"/>
<line x1="225.27" y1="282.83" x2="228.27" y2="282.83" stroke="#22228c" stroke-width="0.7" stroke-opacity="0.7"/>
<line x1="225.27" y1="287.99" x2="228.27" y2="287.99" stroke="#22228c" stroke-width="0.7" stroke-opacity="0.7"/>
<polyline points="160.35,308.63 168.55,308.2 184.95,305.62 197.25,303.04 213.65,293.15 226.77,285.41" fill="none" stroke="#22228c" stroke-width="1.45" stroke-linejoin="round" />
<rect x="158.6" y="306.88" width="3.5" height="3.5" fill="#22228c"/>
<rect x="166.8" y="306.45" width="3.5" height="3.5" fill="#22228c"/>
<rect x="183.2" y="303.87" width="3.5" height="3.5" fill="#22228c"/>
<rect x="195.5" y="301.29" width="3.5" height="3.5" fill="#22228c"/>
<rect x="211.9" y="291.4" width="3.5" height="3.5" fill="#22228c"/>
<rect x="225.02" y="283.66" width="3.5" height="3.5" fill="#22228c"/>
<line x1="213.65" y1="281.11" x2="213.65" y2="285.41" stroke="#111111" stroke-width="0.7" stroke-opacity="0.7"/>
<line x1="212.15" y1="281.11" x2="215.15" y2="281.11" stroke="#111111" stroke-width="0.7" stroke-opacity="0.7"/>
<line x1="212.15" y1="285.41" x2="215.15" y2="285.41" stroke="#111111" stroke-width="0.7" stroke-opacity="0.7"/>
<line x1="226.77" y1="260.47" x2="226.77" y2="269.07" stroke="#111111" stroke-width="0.7" stroke-opacity="0.7"/>
<line x1="225.27" y1="260.47" x2="228.27" y2="260.47" stroke="#111111" stroke-width="0.7" stroke-opacity="0.7"/>
<line x1="225.27" y1="269.07" x2="228.27" y2="269.07" stroke="#111111" stroke-width="0.7" stroke-opacity="0.7"/>
<polyline points="160.35,308.63 168.55,308.2 184.95,303.04 197.25,298.31 213.65,283.26 226.77,264.77" fill="none" stroke="#111111" stroke-width="1.45" stroke-linejoin="round" />
<circle cx="160.35" cy="308.63" r="1.75" fill="#111111"/>
<circle cx="168.55" cy="308.2" r="1.75" fill="#111111"/>
<circle cx="184.95" cy="303.04" r="1.75" fill="#111111"/>
<circle cx="197.25" cy="298.31" r="1.75" fill="#111111"/>
<circle cx="213.65" cy="283.26" r="1.75" fill="#111111"/>
<circle cx="226.77" cy="264.77" r="1.75" fill="#111111"/>
<text x="230.9" y="285.72" text-anchor="start" style="font-size:7px;font-weight:bold;" fill="#1a1a1a" transform="translate(230.9 283.2) scale(1 1.1) translate(-230.9 -283.2)" >ns</text>
<polygon points="233.1,294.65 233.62,295.69 234.77,295.86 233.93,296.67 234.13,297.82 233.1,297.28 232.07,297.82 232.27,296.67 231.43,295.86 232.58,295.69" fill="#333" stroke="#333" stroke-width="0.5" stroke-linejoin="round"/>
<polygon points="237.67,294.65 238.19,295.69 239.34,295.86 238.5,296.67 238.7,297.82 237.67,297.28 236.64,297.82 236.84,296.67 236,295.86 237.15,295.69" fill="#333" stroke="#333" stroke-width="0.5" stroke-linejoin="round"/>
<polygon points="242.24,294.65 242.76,295.69 243.91,295.86 243.07,296.67 243.27,297.82 242.24,297.28 241.21,297.82 241.41,296.67 240.57,295.86 241.72,295.69" fill="#333" stroke="#333" stroke-width="0.5" stroke-linejoin="round"/>
<polygon points="246.81,294.65 247.33,295.69 248.48,295.86 247.64,296.67 247.84,297.82 246.81,297.28 245.78,297.82 245.98,296.67 245.14,295.86 246.29,295.69" fill="#333" stroke="#333" stroke-width="0.5" stroke-linejoin="round"/>
<line x1="279.4" y1="247.5" x2="279.4" y2="313" stroke="#333" stroke-width="1" />
<line x1="278.9" y1="312.5" x2="357" y2="312.5" stroke="#333" stroke-width="1" />
<line x1="276.7" y1="312.5" x2="279.4" y2="312.5" stroke="#333" stroke-width="1" />
<text x="274.8" y="315.02" text-anchor="end" style="font-size:7px;font-weight:bold;" fill="#1a1a1a" transform="translate(274.8 312.5) scale(0.91 1.1) translate(-274.8 -312.5)" >0</text>
<line x1="276.7" y1="291" x2="279.4" y2="291" stroke="#333" stroke-width="1" />
<text x="274.8" y="293.52" text-anchor="end" style="font-size:7px;font-weight:bold;" fill="#1a1a1a" transform="translate(274.8 291) scale(0.91 1.1) translate(-274.8 -291)" >500</text>
<line x1="276.7" y1="269.5" x2="279.4" y2="269.5" stroke="#333" stroke-width="1" />
<text x="274.8" y="272.02" text-anchor="end" style="font-size:7px;font-weight:bold;" fill="#1a1a1a" transform="translate(274.8 269.5) scale(0.91 1.1) translate(-274.8 -269.5)" >1,000</text>
<line x1="276.7" y1="248" x2="279.4" y2="248" stroke="#333" stroke-width="1" />
<text x="274.8" y="250.52" text-anchor="end" style="font-size:7px;font-weight:bold;" fill="#1a1a1a" transform="translate(274.8 248) scale(0.91 1.1) translate(-274.8 -248)" >1,500</text>
<line x1="279.6" y1="312.5" x2="279.6" y2="315.2" stroke="#333" stroke-width="1" />
<text x="279.6" y="322.32" text-anchor="middle" style="font-size:7px;font-weight:bold;" fill="#1a1a1a" transform="translate(279.6 319.8) scale(0.91 1.1) translate(-279.6 -319.8)" >0</text>
<line x1="294.84" y1="312.5" x2="294.84" y2="315.2" stroke="#333" stroke-width="1" />
<text x="294.84" y="322.32" text-anchor="middle" style="font-size:7px;font-weight:bold;" fill="#1a1a1a" transform="translate(294.84 319.8) scale(0.91 1.1) translate(-294.84 -319.8)" >3</text>
<line x1="310.08" y1="312.5" x2="310.08" y2="315.2" stroke="#333" stroke-width="1" />
<text x="310.08" y="322.32" text-anchor="middle" style="font-size:7px;font-weight:bold;" fill="#1a1a1a" transform="translate(310.08 319.8) scale(0.91 1.1) translate(-310.08 -319.8)" >6</text>
<line x1="325.32" y1="312.5" x2="325.32" y2="315.2" stroke="#333" stroke-width="1" />
<text x="325.32" y="322.32" text-anchor="middle" style="font-size:7px;font-weight:bold;" fill="#1a1a1a" transform="translate(325.32 319.8) scale(0.91 1.1) translate(-325.32 -319.8)" >9</text>
<line x1="340.56" y1="312.5" x2="340.56" y2="315.2" stroke="#333" stroke-width="1" />
<text x="340.56" y="322.32" text-anchor="middle" style="font-size:7px;font-weight:bold;" fill="#1a1a1a" transform="translate(340.56 319.8) scale(0.91 1.1) translate(-340.56 -319.8)" >12</text>
<line x1="355.8" y1="312.5" x2="355.8" y2="315.2" stroke="#333" stroke-width="1" />
<text x="355.8" y="322.32" text-anchor="middle" style="font-size:7px;font-weight:bold;" fill="#1a1a1a" transform="translate(355.8 319.8) scale(0.91 1.1) translate(-355.8 -319.8)" >15</text>
<line x1="340.56" y1="296.59" x2="340.56" y2="300.89" stroke="#ec8448" stroke-width="0.7" stroke-opacity="0.7"/>
<line x1="339.06" y1="296.59" x2="342.06" y2="296.59" stroke="#ec8448" stroke-width="0.7" stroke-opacity="0.7"/>
<line x1="339.06" y1="300.89" x2="342.06" y2="300.89" stroke="#ec8448" stroke-width="0.7" stroke-opacity="0.7"/>
<line x1="355.8" y1="290.57" x2="355.8" y2="299.17" stroke="#ec8448" stroke-width="0.7" stroke-opacity="0.7"/>
<line x1="354.3" y1="290.57" x2="357.3" y2="290.57" stroke="#ec8448" stroke-width="0.7" stroke-opacity="0.7"/>
<line x1="354.3" y1="299.17" x2="357.3" y2="299.17" stroke="#ec8448" stroke-width="0.7" stroke-opacity="0.7"/>
<polyline points="284.68,309.06 305,306.48 320.24,302.61 340.56,298.74 355.8,294.87" fill="none" stroke="#ec8448" stroke-width="1.45" stroke-linejoin="round" />
<circle cx="284.68" cy="309.06" r="1.75" fill="#ec8448"/>
<circle cx="305" cy="306.48" r="1.75" fill="#ec8448"/>
<circle cx="320.24" cy="302.61" r="1.75" fill="#ec8448"/>
<circle cx="340.56" cy="298.74" r="1.75" fill="#ec8448"/>
<circle cx="355.8" cy="294.87" r="1.75" fill="#ec8448"/>
<polyline points="284.68,309.06 305,305.62 320.24,300.46 340.56,291.86 355.8,282.4" fill="none" stroke="#22228c" stroke-width="1.45" stroke-linejoin="round" />
<polygon points="284.68,306.96 282.75,310.46 286.61,310.46" fill="#22228c"/>
<polygon points="305,303.52 303.07,307.02 306.93,307.02" fill="#22228c"/>
<polygon points="320.24,298.36 318.31,301.86 322.17,301.86" fill="#22228c"/>
<polygon points="340.56,289.76 338.63,293.26 342.49,293.26" fill="#22228c"/>
<polygon points="355.8,280.3 353.88,283.8 357.73,283.8" fill="#22228c"/>
<line x1="340.56" y1="285.84" x2="340.56" y2="291" stroke="#111111" stroke-width="0.7" stroke-opacity="0.7"/>
<line x1="339.06" y1="285.84" x2="342.06" y2="285.84" stroke="#111111" stroke-width="0.7" stroke-opacity="0.7"/>
<line x1="339.06" y1="291" x2="342.06" y2="291" stroke="#111111" stroke-width="0.7" stroke-opacity="0.7"/>
<line x1="355.8" y1="263.05" x2="355.8" y2="273.37" stroke="#111111" stroke-width="0.7" stroke-opacity="0.7"/>
<line x1="354.3" y1="263.05" x2="357.3" y2="263.05" stroke="#111111" stroke-width="0.7" stroke-opacity="0.7"/>
<line x1="354.3" y1="273.37" x2="357.3" y2="273.37" stroke="#111111" stroke-width="0.7" stroke-opacity="0.7"/>
<polyline points="284.68,309.06 305,306.48 320.24,300.03 340.56,288.42 355.8,268.21" fill="none" stroke="#111111" stroke-width="1.45" stroke-linejoin="round" />
<rect x="282.93" y="307.31" width="3.5" height="3.5" fill="#111111"/>
<rect x="303.25" y="304.73" width="3.5" height="3.5" fill="#111111"/>
<rect x="318.49" y="298.28" width="3.5" height="3.5" fill="#111111"/>
<rect x="338.81" y="286.67" width="3.5" height="3.5" fill="#111111"/>
<rect x="354.05" y="266.46" width="3.5" height="3.5" fill="#111111"/>
<polygon points="364.6,280.18 365.13,281.26 366.33,281.44 365.47,282.28 365.67,283.47 364.6,282.91 363.53,283.47 363.73,282.28 362.87,281.44 364.07,281.26" fill="#555" stroke="#555" stroke-width="0.5" stroke-linejoin="round"/>
<polygon points="368.6,280.18 369.13,281.26 370.33,281.44 369.47,282.28 369.67,283.47 368.6,282.91 367.53,283.47 367.73,282.28 366.87,281.44 368.07,281.26" fill="#555" stroke="#555" stroke-width="0.5" stroke-linejoin="round"/>
<polygon points="364.2,292.95 364.72,293.99 365.87,294.16 365.03,294.97 365.23,296.12 364.2,295.58 363.17,296.12 363.37,294.97 362.53,294.16 363.68,293.99" fill="#333" stroke="#333" stroke-width="0.5" stroke-linejoin="round"/>
<polygon points="368.83,292.95 369.35,293.99 370.5,294.16 369.66,294.97 369.86,296.12 368.83,295.58 367.8,296.12 368,294.97 367.16,294.16 368.31,293.99" fill="#333" stroke="#333" stroke-width="0.5" stroke-linejoin="round"/>
<polygon points="373.46,292.95 373.98,293.99 375.13,294.16 374.29,294.97 374.49,296.12 373.46,295.58 372.43,296.12 372.63,294.97 371.79,294.16 372.94,293.99" fill="#333" stroke="#333" stroke-width="0.5" stroke-linejoin="round"/>
<polygon points="378.09,292.95 378.61,293.99 379.76,294.16 378.92,294.97 379.12,296.12 378.09,295.58 377.06,296.12 377.26,294.97 376.42,294.16 377.57,293.99" fill="#333" stroke="#333" stroke-width="0.5" stroke-linejoin="round"/>
<line x1="407" y1="247.5" x2="407" y2="313.5" stroke="#333" stroke-width="1" />
<line x1="406.5" y1="313" x2="479" y2="313" stroke="#333" stroke-width="1" />
<line x1="404.3" y1="313" x2="407" y2="313" stroke="#333" stroke-width="1" />
<text x="402.4" y="315.52" text-anchor="end" style="font-size:7px;font-weight:bold;" fill="#1a1a1a" transform="translate(402.4 313) scale(0.91 1.1) translate(-402.4 -313)" >0</text>
<line x1="404.3" y1="291.33" x2="407" y2="291.33" stroke="#333" stroke-width="1" />
<text x="402.4" y="293.85" text-anchor="end" style="font-size:7px;font-weight:bold;" fill="#1a1a1a" transform="translate(402.4 291.33) scale(0.91 1.1) translate(-402.4 -291.33)" >500</text>
<line x1="404.3" y1="269.67" x2="407" y2="269.67" stroke="#333" stroke-width="1" />
<text x="402.4" y="272.19" text-anchor="end" style="font-size:7px;font-weight:bold;" fill="#1a1a1a" transform="translate(402.4 269.67) scale(0.91 1.1) translate(-402.4 -269.67)" >1,000</text>
<line x1="404.3" y1="248" x2="407" y2="248" stroke="#333" stroke-width="1" />
<text x="402.4" y="250.52" text-anchor="end" style="font-size:7px;font-weight:bold;" fill="#1a1a1a" transform="translate(402.4 248) scale(0.91 1.1) translate(-402.4 -248)" >1,500</text>
<line x1="407.5" y1="313" x2="407.5" y2="315.7" stroke="#333" stroke-width="1" />
<text x="407.5" y="322.82" text-anchor="middle" style="font-size:7px;font-weight:bold;" fill="#1a1a1a" transform="translate(407.5 320.3) scale(0.91 1.1) translate(-407.5 -320.3)" >0</text>
<line x1="420.4" y1="313" x2="420.4" y2="315.7" stroke="#333" stroke-width="1" />
<text x="420.4" y="322.82" text-anchor="middle" style="font-size:7px;font-weight:bold;" fill="#1a1a1a" transform="translate(420.4 320.3) scale(0.91 1.1) translate(-420.4 -320.3)" >2</text>
<line x1="433.3" y1="313" x2="433.3" y2="315.7" stroke="#333" stroke-width="1" />
<text x="433.3" y="322.82" text-anchor="middle" style="font-size:7px;font-weight:bold;" fill="#1a1a1a" transform="translate(433.3 320.3) scale(0.91 1.1) translate(-433.3 -320.3)" >4</text>
<line x1="446.2" y1="313" x2="446.2" y2="315.7" stroke="#333" stroke-width="1" />
<text x="446.2" y="322.82" text-anchor="middle" style="font-size:7px;font-weight:bold;" fill="#1a1a1a" transform="translate(446.2 320.3) scale(0.91 1.1) translate(-446.2 -320.3)" >6</text>
<line x1="459.1" y1="313" x2="459.1" y2="315.7" stroke="#333" stroke-width="1" />
<text x="459.1" y="322.82" text-anchor="middle" style="font-size:7px;font-weight:bold;" fill="#1a1a1a" transform="translate(459.1 320.3) scale(0.91 1.1) translate(-459.1 -320.3)" >8</text>
<line x1="472" y1="313" x2="472" y2="315.7" stroke="#333" stroke-width="1" />
<text x="472" y="322.82" text-anchor="middle" style="font-size:7px;font-weight:bold;" fill="#1a1a1a" transform="translate(472 320.3) scale(0.91 1.1) translate(-472 -320.3)" >10</text>
<line x1="478.45" y1="295.67" x2="478.45" y2="298.27" stroke="#ec8448" stroke-width="0.7" stroke-opacity="0.7"/>
<line x1="476.95" y1="295.67" x2="479.95" y2="295.67" stroke="#ec8448" stroke-width="0.7" stroke-opacity="0.7"/>
<line x1="476.95" y1="298.27" x2="479.95" y2="298.27" stroke="#ec8448" stroke-width="0.7" stroke-opacity="0.7"/>
<polyline points="413.95,309.53 439.75,304.77 459.1,303.03 478.45,296.97" fill="none" stroke="#ec8448" stroke-width="1.45" stroke-linejoin="round" />
<circle cx="413.95" cy="309.53" r="1.75" fill="#ec8448"/>
<circle cx="439.75" cy="304.77" r="1.75" fill="#ec8448"/>
<circle cx="459.1" cy="303.03" r="1.75" fill="#ec8448"/>
<circle cx="478.45" cy="296.97" r="1.75" fill="#ec8448"/>
<line x1="459.1" y1="298.7" x2="459.1" y2="302.17" stroke="#22228c" stroke-width="0.7" stroke-opacity="0.7"/>
<line x1="457.6" y1="298.7" x2="460.6" y2="298.7" stroke="#22228c" stroke-width="0.7" stroke-opacity="0.7"/>
<line x1="457.6" y1="302.17" x2="460.6" y2="302.17" stroke="#22228c" stroke-width="0.7" stroke-opacity="0.7"/>
<line x1="478.45" y1="279.63" x2="478.45" y2="292.63" stroke="#22228c" stroke-width="0.7" stroke-opacity="0.7"/>
<line x1="476.95" y1="279.63" x2="479.95" y2="279.63" stroke="#22228c" stroke-width="0.7" stroke-opacity="0.7"/>
<line x1="476.95" y1="292.63" x2="479.95" y2="292.63" stroke="#22228c" stroke-width="0.7" stroke-opacity="0.7"/>
<polyline points="413.95,309.53 439.75,305.63 459.1,300.43 478.45,286.13" fill="none" stroke="#22228c" stroke-width="1.45" stroke-linejoin="round" />
<circle cx="413.95" cy="309.53" r="1.75" fill="#22228c"/>
<circle cx="439.75" cy="305.63" r="1.75" fill="#22228c"/>
<circle cx="459.1" cy="300.43" r="1.75" fill="#22228c"/>
<circle cx="478.45" cy="286.13" r="1.75" fill="#22228c"/>
<line x1="439.75" y1="299.57" x2="439.75" y2="303.03" stroke="#111111" stroke-width="0.7" stroke-opacity="0.7"/>
<line x1="438.25" y1="299.57" x2="441.25" y2="299.57" stroke="#111111" stroke-width="0.7" stroke-opacity="0.7"/>
<line x1="438.25" y1="303.03" x2="441.25" y2="303.03" stroke="#111111" stroke-width="0.7" stroke-opacity="0.7"/>
<line x1="459.1" y1="287.87" x2="459.1" y2="295.67" stroke="#111111" stroke-width="0.7" stroke-opacity="0.7"/>
<line x1="457.6" y1="287.87" x2="460.6" y2="287.87" stroke="#111111" stroke-width="0.7" stroke-opacity="0.7"/>
<line x1="457.6" y1="295.67" x2="460.6" y2="295.67" stroke="#111111" stroke-width="0.7" stroke-opacity="0.7"/>
<line x1="478.45" y1="255.8" x2="478.45" y2="275.73" stroke="#111111" stroke-width="0.7" stroke-opacity="0.7"/>
<line x1="476.95" y1="255.8" x2="479.95" y2="255.8" stroke="#111111" stroke-width="0.7" stroke-opacity="0.7"/>
<line x1="476.95" y1="275.73" x2="479.95" y2="275.73" stroke="#111111" stroke-width="0.7" stroke-opacity="0.7"/>
<polyline points="413.95,309.53 439.75,301.3 459.1,291.77 478.45,265.77" fill="none" stroke="#111111" stroke-width="1.45" stroke-linejoin="round" />
<rect x="412.2" y="307.78" width="3.5" height="3.5" fill="#111111"/>
<rect x="438" y="299.55" width="3.5" height="3.5" fill="#111111"/>
<rect x="457.35" y="290.02" width="3.5" height="3.5" fill="#111111"/>
<rect x="476.7" y="264.02" width="3.5" height="3.5" fill="#111111"/>
<text x="481.5" y="287.92" text-anchor="start" style="font-size:7px;font-weight:bold;" fill="#1a1a1a" transform="translate(481.5 285.4) scale(1 1.1) translate(-481.5 -285.4)" >ns</text>
<polygon points="486.5,295.25 487.02,296.29 488.17,296.46 487.33,297.27 487.53,298.42 486.5,297.88 485.47,298.42 485.67,297.27 484.83,296.46 485.98,296.29" fill="#333" stroke="#333" stroke-width="0.5" stroke-linejoin="round"/>
<polygon points="491.7,295.25 492.22,296.29 493.37,296.46 492.53,297.27 492.73,298.42 491.7,297.88 490.67,298.42 490.87,297.27 490.03,296.46 491.18,296.29" fill="#333" stroke="#333" stroke-width="0.5" stroke-linejoin="round"/>
<text x="48.25" y="339.06" text-anchor="start" style="font-size:7.8px;font-weight:bold;" fill="#1a1a1a" transform="translate(48.25 336.25) scale(1 1.1) translate(-48.25 -336.25)" >Days on study</text>
<line x1="107" y1="336.5" x2="457" y2="336.5" stroke="#333" stroke-width="1.1" />
<polygon points="461.5,336.5 455.5,333.6 455.5,339.4" fill="#222"/>
<text x="3.8" y="361.94" text-anchor="start" style="font-size:12.6px;font-weight:bold;" fill="#1a1a1a" transform="translate(3.8 357.4) scale(1 1.07) translate(-3.8 -357.4)" >C</text>
<line x1="33.75" y1="375.75" x2="33.75" y2="469.5" stroke="#333" stroke-width="1" />
<line x1="31.55" y1="469" x2="33.75" y2="469" stroke="#333" stroke-width="1" />
<text x="30.55" y="471.3" text-anchor="end" style="font-size:6.4px;font-weight:bold;" fill="#1a1a1a" transform="translate(30.55 469) scale(1 1.04) translate(-30.55 -469)" >0</text>
<line x1="31.55" y1="450.45" x2="33.75" y2="450.45" stroke="#333" stroke-width="1" />
<text x="30.55" y="452.75" text-anchor="end" style="font-size:6.4px;font-weight:bold;" fill="#1a1a1a" transform="translate(30.55 450.45) scale(1 1.04) translate(-30.55 -450.45)" >20</text>
<line x1="31.55" y1="431.9" x2="33.75" y2="431.9" stroke="#333" stroke-width="1" />
<text x="30.55" y="434.2" text-anchor="end" style="font-size:6.4px;font-weight:bold;" fill="#1a1a1a" transform="translate(30.55 431.9) scale(1 1.04) translate(-30.55 -431.9)" >40</text>
<line x1="31.55" y1="413.35" x2="33.75" y2="413.35" stroke="#333" stroke-width="1" />
<text x="30.55" y="415.65" text-anchor="end" style="font-size:6.4px;font-weight:bold;" fill="#1a1a1a" transform="translate(30.55 413.35) scale(1 1.04) translate(-30.55 -413.35)" >60</text>
<line x1="31.55" y1="394.8" x2="33.75" y2="394.8" stroke="#333" stroke-width="1" />
<text x="30.55" y="397.1" text-anchor="end" style="font-size:6.4px;font-weight:bold;" fill="#1a1a1a" transform="translate(30.55 394.8) scale(1 1.04) translate(-30.55 -394.8)" >80</text>
<line x1="31.55" y1="376.25" x2="33.75" y2="376.25" stroke="#333" stroke-width="1" />
<text x="30.55" y="378.55" text-anchor="end" style="font-size:6.4px;font-weight:bold;" fill="#1a1a1a" transform="translate(30.55 376.25) scale(1 1.04) translate(-30.55 -376.25)" >100</text>
<line x1="33.25" y1="469" x2="127.5" y2="469" stroke="#333" stroke-width="1" />
<line x1="134.5" y1="469" x2="153" y2="469" stroke="#333" stroke-width="1" />
<line x1="33.75" y1="469" x2="33.75" y2="471.2" stroke="#333" stroke-width="1" />
<text x="33.75" y="478.3" text-anchor="middle" style="font-size:6.4px;font-weight:bold;" fill="#1a1a1a" transform="translate(33.75 476) scale(1 1.04) translate(-33.75 -476)" >0</text>
<line x1="52.01" y1="469" x2="52.01" y2="471.2" stroke="#333" stroke-width="1" />
<text x="52.01" y="478.3" text-anchor="middle" style="font-size:6.4px;font-weight:bold;" fill="#1a1a1a" transform="translate(52.01 476) scale(1 1.04) translate(-52.01 -476)" >20</text>
<line x1="70.27" y1="469" x2="70.27" y2="471.2" stroke="#333" stroke-width="1" />
<text x="70.27" y="478.3" text-anchor="middle" style="font-size:6.4px;font-weight:bold;" fill="#1a1a1a" transform="translate(70.27 476) scale(1 1.04) translate(-70.27 -476)" >40</text>
<line x1="88.53" y1="469" x2="88.53" y2="471.2" stroke="#333" stroke-width="1" />
<text x="88.53" y="478.3" text-anchor="middle" style="font-size:6.4px;font-weight:bold;" fill="#1a1a1a" transform="translate(88.53 476) scale(1 1.04) translate(-88.53 -476)" >60</text>
<line x1="106.79" y1="469" x2="106.79" y2="471.2" stroke="#333" stroke-width="1" />
<text x="106.79" y="478.3" text-anchor="middle" style="font-size:6.4px;font-weight:bold;" fill="#1a1a1a" transform="translate(106.79 476) scale(1 1.04) translate(-106.79 -476)" >80</text>
<line x1="125.05" y1="469" x2="125.05" y2="471.2" stroke="#333" stroke-width="1" />
<text x="125.05" y="478.3" text-anchor="middle" style="font-size:6.4px;font-weight:bold;" fill="#1a1a1a" transform="translate(125.05 476) scale(1 1.04) translate(-125.05 -476)" >100</text>
<line x1="152.5" y1="469" x2="152.5" y2="471.2" stroke="#333" stroke-width="1" />
<text x="152.5" y="478.3" text-anchor="middle" style="font-size:6.4px;font-weight:bold;" fill="#1a1a1a" transform="translate(152.5 476) scale(1 1.04) translate(-152.5 -476)" >180</text>
<line x1="126.5" y1="470.5" x2="128.5" y2="467.5" stroke="#333" stroke-width="0.8" />
<line x1="133.5" y1="470.5" x2="135.5" y2="467.5" stroke="#333" stroke-width="0.8" />
<text x="88.3" y="371.31" text-anchor="middle" style="font-size:7.8px;font-weight:bold;" fill="#1a1a1a" transform="translate(88.3 368.5) scale(1 1.04) translate(-88.3 -368.5)" >A20</text>
<text x="14.3" y="422.74" text-anchor="middle" style="font-size:7.9px;font-weight:bold;" fill="#1a1a1a" transform="translate(14.3 419.9) rotate(-90) scale(1 1.04) translate(-14.3 -419.9)" >% Survival</text>
<text x="94.8" y="490.71" text-anchor="middle" style="font-size:7.8px;font-weight:bold;" fill="#1a1a1a" transform="translate(94.8 487.9) scale(1 1.04) translate(-94.8 -487.9)" >Days on study</text>
<polyline points="33.75,376.25 53.3,376.25 53.3,385.52 57.05,385.52 57.05,394.8 66.55,394.8 66.55,404.07 68.8,404.07 68.8,413.35 71.3,413.35 71.3,422.62 126.3,422.62" fill="none" stroke="#ee7636" stroke-width="1.6" stroke-linejoin="round" stroke-linejoin="miter" stroke-linecap="butt"/>
<line x1="132.7" y1="422.62" x2="148.5" y2="422.62" stroke="#ee7636" stroke-width="1.6" />
<line x1="126.2" y1="426.23" x2="130.2" y2="419.02" stroke="#555" stroke-width="0.8" />
<line x1="130" y1="426.23" x2="134" y2="419.02" stroke="#555" stroke-width="0.8" />
<polyline points="33.75,376.25 49.55,376.25 49.55,385.52 52.8,385.52 52.8,404.07 55.8,404.07 55.8,422.62 57.05,422.62 57.05,441.18 66.3,441.18 66.3,450.45 68.8,450.45 68.8,459.73 72.05,459.73" fill="none" stroke="#2424c8" stroke-width="1.6" stroke-linejoin="round" stroke-linejoin="miter" stroke-linecap="butt"/>
<polyline points="33.75,376.25 46.75,376.25 46.75,394.8 49.75,394.8 49.75,422.62 53,422.62 53,459.73" fill="none" stroke="#111111" stroke-width="1.6" stroke-linejoin="round" stroke-linejoin="miter" stroke-linecap="butt"/>
<text x="122.5" y="434.12" text-anchor="start" style="font-size:7px;font-weight:bold;" fill="#1a1a1a" transform="translate(122.5 431.6) scale(0.93 1.04) translate(-122.5 -431.6)" ><tspan style="font-style:italic">P</tspan> ≤ 0.001</text>
<text x="75" y="460.02" text-anchor="start" style="font-size:7px;font-weight:bold;" fill="#1a1a1a" transform="translate(75 457.5) scale(0.95 1.04) translate(-75 -457.5)" ><tspan style="font-style:italic">P</tspan> ≤ 0.01</text>
<line x1="104" y1="380.7" x2="111" y2="380.7" stroke="#111111" stroke-width="1.6" />
<text x="112.6" y="382.72" text-anchor="start" style="font-size:5.6px;font-weight:bold;" fill="#1a1a1a" transform="translate(112.6 380.7) scale(1 1.04) translate(-112.6 -380.7)" >PBS</text>
<line x1="104" y1="388.5" x2="111" y2="388.5" stroke="#2424c8" stroke-width="1.6" />
<text x="112.6" y="390.52" text-anchor="start" style="font-size:5.6px;font-weight:bold;" fill="#1a1a1a" transform="translate(112.6 388.5) scale(1 1.04) translate(-112.6 -388.5)" >ONCR-159</text>
<line x1="104" y1="396.3" x2="111" y2="396.3" stroke="#ee7636" stroke-width="1.6" />
<text x="112.6" y="398.32" text-anchor="start" style="font-size:5.6px;font-weight:bold;" fill="#1a1a1a" transform="translate(112.6 396.3) scale(1 1.04) translate(-112.6 -396.3)" >mONCR-171</text>
<line x1="191.6" y1="375.75" x2="191.6" y2="469.3" stroke="#333" stroke-width="1" />
<line x1="189.4" y1="468.8" x2="191.6" y2="468.8" stroke="#333" stroke-width="1" />
<text x="188.4" y="471.32" text-anchor="end" style="font-size:7px;font-weight:bold;" fill="#1a1a1a" transform="translate(188.4 468.8) scale(1 1.04) translate(-188.4 -468.8)" >0</text>
<line x1="189.4" y1="450.29" x2="191.6" y2="450.29" stroke="#333" stroke-width="1" />
<text x="188.4" y="452.81" text-anchor="end" style="font-size:7px;font-weight:bold;" fill="#1a1a1a" transform="translate(188.4 450.29) scale(1 1.04) translate(-188.4 -450.29)" >20</text>
<line x1="189.4" y1="431.78" x2="191.6" y2="431.78" stroke="#333" stroke-width="1" />
<text x="188.4" y="434.3" text-anchor="end" style="font-size:7px;font-weight:bold;" fill="#1a1a1a" transform="translate(188.4 431.78) scale(1 1.04) translate(-188.4 -431.78)" >40</text>
<line x1="189.4" y1="413.27" x2="191.6" y2="413.27" stroke="#333" stroke-width="1" />
<text x="188.4" y="415.79" text-anchor="end" style="font-size:7px;font-weight:bold;" fill="#1a1a1a" transform="translate(188.4 413.27) scale(1 1.04) translate(-188.4 -413.27)" >60</text>
<line x1="189.4" y1="394.76" x2="191.6" y2="394.76" stroke="#333" stroke-width="1" />
<text x="188.4" y="397.28" text-anchor="end" style="font-size:7px;font-weight:bold;" fill="#1a1a1a" transform="translate(188.4 394.76) scale(1 1.04) translate(-188.4 -394.76)" >80</text>
<line x1="189.4" y1="376.25" x2="191.6" y2="376.25" stroke="#333" stroke-width="1" />
<text x="188.4" y="378.77" text-anchor="end" style="font-size:7px;font-weight:bold;" fill="#1a1a1a" transform="translate(188.4 376.25) scale(1 1.04) translate(-188.4 -376.25)" >100</text>
<line x1="191.1" y1="468.8" x2="299.3" y2="468.8" stroke="#333" stroke-width="1" />
<line x1="191.5" y1="468.8" x2="191.5" y2="471" stroke="#333" stroke-width="1" />
<text x="191.5" y="479.05" text-anchor="middle" style="font-size:6.8px;font-weight:bold;" fill="#1a1a1a" transform="translate(191.5 476.6) scale(1 1.04) translate(-191.5 -476.6)" >0</text>
<line x1="213.06" y1="468.8" x2="213.06" y2="471" stroke="#333" stroke-width="1" />
<text x="213.06" y="479.05" text-anchor="middle" style="font-size:6.8px;font-weight:bold;" fill="#1a1a1a" transform="translate(213.06 476.6) scale(1 1.04) translate(-213.06 -476.6)" >20</text>
<line x1="234.62" y1="468.8" x2="234.62" y2="471" stroke="#333" stroke-width="1" />
<text x="234.62" y="479.05" text-anchor="middle" style="font-size:6.8px;font-weight:bold;" fill="#1a1a1a" transform="translate(234.62 476.6) scale(1 1.04) translate(-234.62 -476.6)" >40</text>
<line x1="256.18" y1="468.8" x2="256.18" y2="471" stroke="#333" stroke-width="1" />
<text x="256.18" y="479.05" text-anchor="middle" style="font-size:6.8px;font-weight:bold;" fill="#1a1a1a" transform="translate(256.18 476.6) scale(1 1.04) translate(-256.18 -476.6)" >60</text>
<line x1="277.74" y1="468.8" x2="277.74" y2="471" stroke="#333" stroke-width="1" />
<text x="277.74" y="479.05" text-anchor="middle" style="font-size:6.8px;font-weight:bold;" fill="#1a1a1a" transform="translate(277.74 476.6) scale(1 1.04) translate(-277.74 -476.6)" >80</text>
<line x1="299.3" y1="468.8" x2="299.3" y2="471" stroke="#333" stroke-width="1" />
<text x="299.3" y="479.05" text-anchor="middle" style="font-size:6.8px;font-weight:bold;" fill="#1a1a1a" transform="translate(299.3 476.6) scale(1 1.04) translate(-299.3 -476.6)" >100</text>
<text x="248" y="371.31" text-anchor="middle" style="font-size:7.8px;font-weight:bold;" fill="#1a1a1a" transform="translate(248 368.5) scale(1 1.04) translate(-248 -368.5)" >CT26</text>
<text x="172.3" y="422.44" text-anchor="middle" style="font-size:7.9px;font-weight:bold;" fill="#1a1a1a" transform="translate(172.3 419.6) rotate(-90) scale(1 1.04) translate(-172.3 -419.6)" >% Survival</text>
<text x="250.7" y="490.71" text-anchor="middle" style="font-size:7.8px;font-weight:bold;" fill="#1a1a1a" transform="translate(250.7 487.9) scale(1 1.04) translate(-250.7 -487.9)" >Days on study</text>
<polyline points="191.5,376.25 211.25,376.25 211.25,399.39 218.75,399.39 218.75,406.79 222,406.79 222,415.12 226.25,415.12 226.25,422.52 237.5,422.52 237.5,429.93 299.25,429.93" fill="none" stroke="#ee7636" stroke-width="1.6" stroke-linejoin="round" stroke-linejoin="miter" stroke-linecap="butt"/>
<polyline points="191.5,376.25 210,376.25 210,383.65 211.25,383.65 211.25,415.12 218.75,415.12 218.75,422.52 222,422.52 222,445.66 226.25,445.66 226.25,453.07 228.75,453.07 228.75,461.4 237.5,461.4 237.5,468.8" fill="none" stroke="#2424c8" stroke-width="1.6" stroke-linejoin="round" stroke-linejoin="miter" stroke-linecap="butt"/>
<polyline points="191.5,376.25 206.25,376.25 206.25,438.26 210.75,438.26 210.75,453.07 214.25,453.07 214.25,468.8" fill="none" stroke="#111111" stroke-width="1.6" stroke-linejoin="round" stroke-linejoin="miter" stroke-linecap="butt"/>
<text x="268" y="441.27" text-anchor="start" style="font-size:7px;font-weight:bold;" fill="#1a1a1a" transform="translate(268 438.75) scale(1 1.04) translate(-268 -438.75)" ><tspan style="font-style:italic">P</tspan> ≤ 0.0001</text>
<text x="241.25" y="463.77" text-anchor="start" style="font-size:7px;font-weight:bold;" fill="#1a1a1a" transform="translate(241.25 461.25) scale(1 1.04) translate(-241.25 -461.25)" ><tspan style="font-style:italic">P</tspan> ≤ 0.001</text>
<line x1="254.6" y1="382.8" x2="262.7" y2="382.8" stroke="#111111" stroke-width="1.6" />
<text x="265" y="384.82" text-anchor="start" style="font-size:5.6px;font-weight:bold;" fill="#1a1a1a" transform="translate(265 382.8) scale(1 1.04) translate(-265 -382.8)" >PBS</text>
<line x1="254.6" y1="391.45" x2="262.7" y2="391.45" stroke="#2424c8" stroke-width="1.6" />
<text x="265" y="393.47" text-anchor="start" style="font-size:5.6px;font-weight:bold;" fill="#1a1a1a" transform="translate(265 391.45) scale(1 1.04) translate(-265 -391.45)" >ONCR-159</text>
<line x1="254.6" y1="400.1" x2="262.7" y2="400.1" stroke="#ee7636" stroke-width="1.6" />
<text x="265" y="402.12" text-anchor="start" style="font-size:5.6px;font-weight:bold;" fill="#1a1a1a" transform="translate(265 400.1) scale(1 1.04) translate(-265 -400.1)" >mONCR-171</text>
<text x="340" y="361.94" text-anchor="start" style="font-size:12.6px;font-weight:bold;" fill="#1a1a1a" transform="translate(340 357.4) scale(1 1.05) translate(-340 -357.4)" >D</text>
<line x1="373" y1="375.8" x2="373" y2="469.3" stroke="#333" stroke-width="1" />
<line x1="370.8" y1="468.8" x2="373" y2="468.8" stroke="#333" stroke-width="1" />
<text x="369.6" y="471.32" text-anchor="end" style="font-size:7px;font-weight:bold;" fill="#1a1a1a" transform="translate(369.6 468.8) translate(-369.6 -468.8)" >0</text>
<line x1="370.8" y1="450.3" x2="373" y2="450.3" stroke="#333" stroke-width="1" />
<text x="369.6" y="452.82" text-anchor="end" style="font-size:7px;font-weight:bold;" fill="#1a1a1a" transform="translate(369.6 450.3) translate(-369.6 -450.3)" >20</text>
<line x1="370.8" y1="431.8" x2="373" y2="431.8" stroke="#333" stroke-width="1" />
<text x="369.6" y="434.32" text-anchor="end" style="font-size:7px;font-weight:bold;" fill="#1a1a1a" transform="translate(369.6 431.8) translate(-369.6 -431.8)" >40</text>
<line x1="370.8" y1="413.3" x2="373" y2="413.3" stroke="#333" stroke-width="1" />
<text x="369.6" y="415.82" text-anchor="end" style="font-size:7px;font-weight:bold;" fill="#1a1a1a" transform="translate(369.6 413.3) translate(-369.6 -413.3)" >60</text>
<line x1="370.8" y1="394.8" x2="373" y2="394.8" stroke="#333" stroke-width="1" />
<text x="369.6" y="397.32" text-anchor="end" style="font-size:7px;font-weight:bold;" fill="#1a1a1a" transform="translate(369.6 394.8) translate(-369.6 -394.8)" >80</text>
<line x1="370.8" y1="376.3" x2="373" y2="376.3" stroke="#333" stroke-width="1" />
<text x="369.6" y="378.82" text-anchor="end" style="font-size:7px;font-weight:bold;" fill="#1a1a1a" transform="translate(369.6 376.3) translate(-369.6 -376.3)" >100</text>
<line x1="372.5" y1="468.8" x2="465.98" y2="468.8" stroke="#333" stroke-width="1" />
<line x1="372.8" y1="468.8" x2="372.8" y2="471" stroke="#333" stroke-width="1" />
<text x="372.8" y="479.42" text-anchor="middle" style="font-size:7px;font-weight:bold;" fill="#1a1a1a" transform="translate(372.8 476.9) translate(-372.8 -476.9)" >0</text>
<line x1="388.33" y1="468.8" x2="388.33" y2="471" stroke="#333" stroke-width="1" />
<text x="388.33" y="479.42" text-anchor="middle" style="font-size:7px;font-weight:bold;" fill="#1a1a1a" transform="translate(388.33 476.9) translate(-388.33 -476.9)" >10</text>
<line x1="403.86" y1="468.8" x2="403.86" y2="471" stroke="#333" stroke-width="1" />
<text x="403.86" y="479.42" text-anchor="middle" style="font-size:7px;font-weight:bold;" fill="#1a1a1a" transform="translate(403.86 476.9) translate(-403.86 -476.9)" >20</text>
<line x1="419.39" y1="468.8" x2="419.39" y2="471" stroke="#333" stroke-width="1" />
<text x="419.39" y="479.42" text-anchor="middle" style="font-size:7px;font-weight:bold;" fill="#1a1a1a" transform="translate(419.39 476.9) translate(-419.39 -476.9)" >30</text>
<line x1="434.92" y1="468.8" x2="434.92" y2="471" stroke="#333" stroke-width="1" />
<text x="434.92" y="479.42" text-anchor="middle" style="font-size:7px;font-weight:bold;" fill="#1a1a1a" transform="translate(434.92 476.9) translate(-434.92 -476.9)" >40</text>
<line x1="450.45" y1="468.8" x2="450.45" y2="471" stroke="#333" stroke-width="1" />
<text x="450.45" y="479.42" text-anchor="middle" style="font-size:7px;font-weight:bold;" fill="#1a1a1a" transform="translate(450.45 476.9) translate(-450.45 -476.9)" >50</text>
<line x1="465.98" y1="468.8" x2="465.98" y2="471" stroke="#333" stroke-width="1" />
<text x="465.98" y="479.42" text-anchor="middle" style="font-size:7px;font-weight:bold;" fill="#1a1a1a" transform="translate(465.98 476.9) translate(-465.98 -476.9)" >60</text>
<text x="352" y="422.28" text-anchor="middle" style="font-size:8px;font-weight:bold;" fill="#1a1a1a" transform="translate(352 419.4) rotate(-90) scale(1 1.08) translate(-352 -419.4)" >% Survival</text>
<text x="419.3" y="489.63" text-anchor="middle" style="font-size:7.85px;font-weight:bold;" fill="#1a1a1a" transform="translate(419.3 486.8) scale(1 1.1) translate(-419.3 -486.8)" >Days postimplantation</text>
<line x1="372.8" y1="376.3" x2="458.5" y2="376.3" stroke="#ea9468" stroke-width="1.5" />
<polyline points="409.15,376.3 409.15,468.8" fill="none" stroke="#2a8c2a" stroke-width="1.4" stroke-linejoin="round" stroke-linejoin="miter" stroke-linecap="butt"/>
<polyline points="372.8,376.3 408.75,376.3 408.75,396.65 413.5,396.65 413.5,406.82 416,406.82 416,438.28 424.25,438.28 424.25,448.45 440.5,448.45 440.5,458.62 458.5,458.62 458.5,468.8" fill="none" stroke="#111111" stroke-width="1.6" stroke-linejoin="round" stroke-linejoin="miter" stroke-linecap="butt"/>
<text x="413" y="463.3" text-anchor="start" style="font-size:6.4px;font-weight:bold;" fill="#1a1a1a" transform="translate(413 461) translate(-413 -461)" >ns</text>
<text x="462.5" y="465.88" text-anchor="start" style="font-size:6.6px;font-weight:bold;" fill="#1a1a1a" transform="translate(462.5 463.5) translate(-462.5 -463.5)" ><tspan style="font-style:italic">P</tspan> ≤ 0.0001</text>
<line x1="454.4" y1="389.7" x2="463" y2="389.7" stroke="#111111" stroke-width="1.8" />
<text x="465.2" y="391.75" text-anchor="start" style="font-size:6.8px;font-weight:bold;" fill="#1a1a1a" transform="translate(465.2 389.3) translate(-465.2 -389.3)" >A20 challenge</text>
<line x1="454.4" y1="400.6" x2="463" y2="400.6" stroke="#ee7636" stroke-width="1.8" />
<text x="465.2" y="402.65" text-anchor="start" style="font-size:6.8px;font-weight:bold;" fill="#1a1a1a" transform="translate(465.2 400.2) translate(-465.2 -400.2)" >A20 rechallenge</text>
<line x1="454.4" y1="414.6" x2="463" y2="414.6" stroke="#2a8c2a" stroke-width="1.8" />
<text x="465.2" y="414.95" text-anchor="start" style="font-size:6.8px;font-weight:bold;" fill="#1a1a1a" transform="translate(465.2 412.5) translate(-465.2 -412.5)" >EMT-6 challenge,</text>
<text x="465.2" y="421.25" text-anchor="start" style="font-size:6.8px;font-weight:bold;" fill="#1a1a1a" transform="translate(465.2 418.8) translate(-465.2 -418.8)" >naive</text>
<line x1="454.4" y1="433" x2="463" y2="433" stroke="#2424c8" stroke-width="1.8" />
<text x="465.2" y="432.85" text-anchor="start" style="font-size:6.8px;font-weight:bold;" fill="#1a1a1a" transform="translate(465.2 430.4) translate(-465.2 -430.4)" >EMT-6 challenge,</text>
<text x="465.2" y="439.75" text-anchor="start" style="font-size:6.8px;font-weight:bold;" fill="#1a1a1a" transform="translate(465.2 437.3) translate(-465.2 -437.3)" >A20 cured</text>
</svg></body></html>
